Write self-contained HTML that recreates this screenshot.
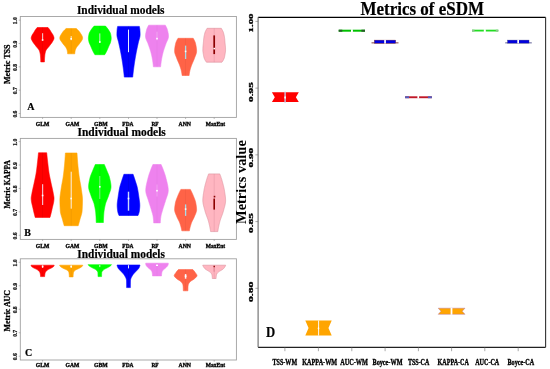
<!DOCTYPE html>
<html><head><meta charset="utf-8"><title>Metrics of eSDM</title>
<style>html,body{margin:0;padding:0;background:#fff;}svg{display:block;}</style></head>
<body><svg width="550" height="369" viewBox="0 0 550 369">
<rect width="550" height="369" fill="#fff"/>
<text x="76.9" y="14.2" font-family="'Liberation Serif', 'Times New Roman', serif" font-weight="bold" font-size="11.6" textLength="87.6" lengthAdjust="spacingAndGlyphs" fill="#000" stroke="#000" stroke-width="0.2">Individual models</text>
<rect x="20.3" y="16.5" width="216.1" height="100.9" fill="none" stroke="#a0a0a0" stroke-width="0.9"/>
<line x1="18.7" y1="20.20" x2="20.3" y2="20.20" stroke="#909090" stroke-width="0.6"/>
<text transform="translate(17.1,24.299999999999997) rotate(-90)" font-family="'Liberation Serif', 'Times New Roman', serif" font-weight="bold" font-size="5.6" textLength="7.0" lengthAdjust="spacingAndGlyphs" fill="#111" stroke="#111" stroke-width="0.25">1.0</text>
<line x1="18.7" y1="43.52" x2="20.3" y2="43.52" stroke="#909090" stroke-width="0.6"/>
<text transform="translate(17.1,47.625) rotate(-90)" font-family="'Liberation Serif', 'Times New Roman', serif" font-weight="bold" font-size="5.6" textLength="7.0" lengthAdjust="spacingAndGlyphs" fill="#111" stroke="#111" stroke-width="0.25">0.9</text>
<line x1="18.7" y1="66.85" x2="20.3" y2="66.85" stroke="#909090" stroke-width="0.6"/>
<text transform="translate(17.1,70.94999999999999) rotate(-90)" font-family="'Liberation Serif', 'Times New Roman', serif" font-weight="bold" font-size="5.6" textLength="7.0" lengthAdjust="spacingAndGlyphs" fill="#111" stroke="#111" stroke-width="0.25">0.8</text>
<line x1="18.7" y1="90.17" x2="20.3" y2="90.17" stroke="#909090" stroke-width="0.6"/>
<text transform="translate(17.1,94.27499999999999) rotate(-90)" font-family="'Liberation Serif', 'Times New Roman', serif" font-weight="bold" font-size="5.6" textLength="7.0" lengthAdjust="spacingAndGlyphs" fill="#111" stroke="#111" stroke-width="0.25">0.7</text>
<line x1="18.7" y1="113.50" x2="20.3" y2="113.50" stroke="#909090" stroke-width="0.6"/>
<text transform="translate(17.1,117.6) rotate(-90)" font-family="'Liberation Serif', 'Times New Roman', serif" font-weight="bold" font-size="5.6" textLength="7.0" lengthAdjust="spacingAndGlyphs" fill="#111" stroke="#111" stroke-width="0.25">0.6</text>
<text transform="translate(10.4,84.0) rotate(-90)" font-family="'Liberation Serif', 'Times New Roman', serif" font-weight="bold" font-size="8.6" textLength="39.5" lengthAdjust="spacingAndGlyphs" fill="#000" stroke="#000" stroke-width="0.3">Metric TSS</text>
<text x="27.2" y="110.0" font-family="'Liberation Serif', 'Times New Roman', serif" font-weight="bold" font-size="10.0" fill="#000" stroke="#000" stroke-width="0.2">A</text>
<line x1="42.6" y1="117.4" x2="42.6" y2="119.0" stroke="#909090" stroke-width="0.6"/>
<text x="35.8" y="126.0" font-family="'Liberation Serif', 'Times New Roman', serif" font-weight="bold" font-size="5.4" textLength="13.6" lengthAdjust="spacingAndGlyphs" fill="#000" stroke="#000" stroke-width="0.3">GLM</text>
<line x1="71.2" y1="117.4" x2="71.2" y2="119.0" stroke="#909090" stroke-width="0.6"/>
<text x="65.6" y="126.0" font-family="'Liberation Serif', 'Times New Roman', serif" font-weight="bold" font-size="5.4" textLength="13.9" lengthAdjust="spacingAndGlyphs" fill="#000" stroke="#000" stroke-width="0.3">GAM</text>
<line x1="99.8" y1="117.4" x2="99.8" y2="119.0" stroke="#909090" stroke-width="0.6"/>
<text x="94.0" y="126.0" font-family="'Liberation Serif', 'Times New Roman', serif" font-weight="bold" font-size="5.4" textLength="13.8" lengthAdjust="spacingAndGlyphs" fill="#000" stroke="#000" stroke-width="0.3">GBM</text>
<line x1="128.5" y1="117.4" x2="128.5" y2="119.0" stroke="#909090" stroke-width="0.6"/>
<text x="122.3" y="126.0" font-family="'Liberation Serif', 'Times New Roman', serif" font-weight="bold" font-size="5.4" textLength="11.3" lengthAdjust="spacingAndGlyphs" fill="#000" stroke="#000" stroke-width="0.3">FDA</text>
<line x1="157.0" y1="117.4" x2="157.0" y2="119.0" stroke="#909090" stroke-width="0.6"/>
<text x="151.4" y="126.0" font-family="'Liberation Serif', 'Times New Roman', serif" font-weight="bold" font-size="5.4" textLength="7.1" lengthAdjust="spacingAndGlyphs" fill="#000" stroke="#000" stroke-width="0.3">RF</text>
<line x1="185.6" y1="117.4" x2="185.6" y2="119.0" stroke="#909090" stroke-width="0.6"/>
<text x="178.6" y="126.0" font-family="'Liberation Serif', 'Times New Roman', serif" font-weight="bold" font-size="5.4" textLength="12.3" lengthAdjust="spacingAndGlyphs" fill="#000" stroke="#000" stroke-width="0.3">ANN</text>
<line x1="214.2" y1="117.4" x2="214.2" y2="119.0" stroke="#909090" stroke-width="0.6"/>
<text x="205.7" y="126.0" font-family="'Liberation Serif', 'Times New Roman', serif" font-weight="bold" font-size="5.4" textLength="19.4" lengthAdjust="spacingAndGlyphs" fill="#000" stroke="#000" stroke-width="0.3">MaxEnt</text>
<path d="M48.00,27.50 L48.42,28.01 L48.82,28.51 L49.21,29.02 L49.57,29.52 L49.92,30.03 L50.24,30.54 L50.54,31.04 L50.83,31.55 L51.11,32.05 L51.41,32.56 L51.74,33.06 L52.10,33.57 L52.46,34.08 L52.79,34.58 L53.04,35.09 L53.27,35.59 L53.49,36.10 L53.69,36.61 L53.85,37.11 L53.96,37.62 L54.00,38.12 L53.94,38.63 L53.80,39.14 L53.60,39.64 L53.34,40.15 L53.06,40.65 L52.78,41.16 L52.51,41.66 L52.21,42.17 L51.88,42.68 L51.52,43.18 L51.14,43.69 L50.75,44.19 L50.35,44.70 L49.96,45.21 L49.59,45.71 L49.21,46.22 L48.80,46.72 L48.37,47.23 L47.94,47.74 L47.51,48.24 L47.10,48.75 L46.71,49.25 L46.36,49.76 L46.06,50.26 L45.82,50.77 L45.64,51.28 L45.49,51.78 L45.36,52.29 L45.23,52.79 L45.12,53.30 L45.02,53.81 L44.93,54.31 L44.86,54.82 L44.81,55.32 L44.76,55.83 L44.72,56.34 L44.68,56.84 L44.64,57.35 L44.60,57.85 L44.57,58.36 L44.54,58.86 L44.51,59.37 L44.49,59.88 L44.47,60.38 L44.46,60.89 L44.45,61.39 L44.45,61.90 L40.75,61.90 L40.75,61.39 L40.74,60.89 L40.73,60.38 L40.71,59.88 L40.69,59.37 L40.66,58.86 L40.63,58.36 L40.60,57.85 L40.56,57.35 L40.52,56.84 L40.48,56.34 L40.44,55.83 L40.39,55.32 L40.34,54.82 L40.27,54.31 L40.18,53.81 L40.08,53.30 L39.97,52.79 L39.84,52.29 L39.71,51.78 L39.56,51.28 L39.38,50.77 L39.14,50.26 L38.84,49.76 L38.49,49.25 L38.10,48.75 L37.69,48.24 L37.26,47.74 L36.83,47.23 L36.40,46.72 L35.99,46.22 L35.61,45.71 L35.24,45.21 L34.85,44.70 L34.45,44.19 L34.06,43.69 L33.68,43.18 L33.32,42.68 L32.99,42.17 L32.69,41.66 L32.42,41.16 L32.14,40.65 L31.86,40.15 L31.60,39.64 L31.40,39.14 L31.26,38.63 L31.20,38.12 L31.24,37.62 L31.35,37.11 L31.51,36.61 L31.71,36.10 L31.93,35.59 L32.16,35.09 L32.41,34.58 L32.74,34.08 L33.10,33.57 L33.46,33.06 L33.79,32.56 L34.09,32.05 L34.37,31.55 L34.66,31.04 L34.96,30.54 L35.28,30.03 L35.63,29.52 L35.99,29.02 L36.38,28.51 L36.78,28.01 L37.20,27.50Z" fill="#ff0000" stroke="#ff0000" stroke-width="0.6"/>
<line x1="42.6" y1="27.5" x2="42.6" y2="61.9" stroke="#cc0000" stroke-width="0.5" opacity="0.55"/>
<rect x="42.05" y="33.2" width="1.1" height="7.00" fill="#f0c0c8"/>
<rect x="41.80" y="39.20" width="1.6" height="1.6" fill="#ffffff"/>
<path d="M76.30,28.50 L76.85,29.01 L77.38,29.51 L77.89,30.02 L78.38,30.52 L78.84,31.03 L79.26,31.54 L79.65,32.04 L80.00,32.55 L80.32,33.05 L80.65,33.56 L80.97,34.07 L81.29,34.57 L81.59,35.08 L81.87,35.58 L82.11,36.09 L82.31,36.60 L82.47,37.10 L82.57,37.61 L82.60,38.11 L82.55,38.62 L82.42,39.13 L82.21,39.63 L81.95,40.14 L81.64,40.64 L81.30,41.15 L80.93,41.66 L80.55,42.16 L80.18,42.67 L79.82,43.17 L79.48,43.68 L79.11,44.19 L78.70,44.69 L78.27,45.20 L77.83,45.70 L77.41,46.21 L77.01,46.72 L76.64,47.22 L76.34,47.73 L76.08,48.23 L75.83,48.74 L75.60,49.25 L75.40,49.75 L75.25,50.26 L75.15,50.76 L75.06,51.27 L74.98,51.78 L74.90,52.28 L74.85,52.79 L74.81,53.29 L74.80,53.80 L67.60,53.80 L67.59,53.29 L67.55,52.79 L67.50,52.28 L67.42,51.78 L67.34,51.27 L67.25,50.76 L67.15,50.26 L67.00,49.75 L66.80,49.25 L66.57,48.74 L66.32,48.23 L66.06,47.73 L65.76,47.22 L65.39,46.72 L64.99,46.21 L64.57,45.70 L64.13,45.20 L63.70,44.69 L63.29,44.19 L62.92,43.68 L62.58,43.17 L62.22,42.67 L61.85,42.16 L61.47,41.66 L61.10,41.15 L60.76,40.64 L60.45,40.14 L60.19,39.63 L59.98,39.13 L59.85,38.62 L59.80,38.11 L59.83,37.61 L59.93,37.10 L60.09,36.60 L60.29,36.09 L60.53,35.58 L60.81,35.08 L61.11,34.57 L61.43,34.07 L61.75,33.56 L62.08,33.05 L62.40,32.55 L62.75,32.04 L63.14,31.54 L63.56,31.03 L64.02,30.52 L64.51,30.02 L65.02,29.51 L65.55,29.01 L66.10,28.50Z" fill="#ffa500" stroke="#ffa500" stroke-width="0.6"/>
<line x1="71.2" y1="28.5" x2="71.2" y2="53.8" stroke="#d88000" stroke-width="0.5" opacity="0.55"/>
<rect x="70.65" y="36.0" width="1.1" height="4.20" fill="#ffe0b0"/>
<rect x="70.40" y="38.00" width="1.6" height="1.6" fill="#ffffff"/>
<path d="M105.50,26.10 L105.95,26.60 L106.39,27.10 L106.81,27.61 L107.22,28.11 L107.60,28.61 L107.97,29.11 L108.32,29.61 L108.64,30.11 L108.95,30.62 L109.25,31.12 L109.54,31.62 L109.83,32.12 L110.09,32.62 L110.32,33.12 L110.50,33.63 L110.63,34.13 L110.74,34.63 L110.84,35.13 L110.93,35.63 L111.02,36.14 L111.09,36.64 L111.14,37.14 L111.18,37.64 L111.20,38.14 L111.19,38.64 L111.16,39.15 L111.09,39.65 L111.01,40.15 L110.91,40.65 L110.80,41.15 L110.68,41.65 L110.56,42.16 L110.41,42.66 L110.22,43.16 L110.00,43.66 L109.77,44.16 L109.53,44.66 L109.29,45.17 L109.06,45.67 L108.84,46.17 L108.63,46.67 L108.42,47.17 L108.21,47.68 L108.00,48.18 L107.79,48.68 L107.58,49.18 L107.36,49.68 L107.13,50.18 L106.90,50.69 L106.66,51.19 L106.40,51.69 L106.14,52.19 L105.87,52.69 L105.59,53.19 L105.30,53.70 L105.00,54.20 L104.70,54.70 L94.90,54.70 L94.60,54.20 L94.30,53.70 L94.01,53.19 L93.73,52.69 L93.46,52.19 L93.20,51.69 L92.94,51.19 L92.70,50.69 L92.47,50.18 L92.24,49.68 L92.02,49.18 L91.81,48.68 L91.60,48.18 L91.39,47.68 L91.18,47.17 L90.97,46.67 L90.76,46.17 L90.54,45.67 L90.31,45.17 L90.07,44.66 L89.83,44.16 L89.60,43.66 L89.38,43.16 L89.19,42.66 L89.04,42.16 L88.92,41.65 L88.80,41.15 L88.69,40.65 L88.59,40.15 L88.51,39.65 L88.44,39.15 L88.41,38.64 L88.40,38.14 L88.42,37.64 L88.46,37.14 L88.51,36.64 L88.58,36.14 L88.67,35.63 L88.76,35.13 L88.86,34.63 L88.97,34.13 L89.10,33.63 L89.28,33.12 L89.51,32.62 L89.77,32.12 L90.06,31.62 L90.35,31.12 L90.65,30.62 L90.96,30.11 L91.28,29.61 L91.63,29.11 L92.00,28.61 L92.38,28.11 L92.79,27.61 L93.21,27.10 L93.65,26.60 L94.10,26.10Z" fill="#00ff00" stroke="#00ff00" stroke-width="0.6"/>
<line x1="99.8" y1="26.1" x2="99.8" y2="54.7" stroke="#00cc00" stroke-width="0.5" opacity="0.55"/>
<rect x="99.25" y="33.4" width="1.1" height="9.20" fill="#b8f0b8"/>
<rect x="99.00" y="41.20" width="1.6" height="1.6" fill="#ffffff"/>
<path d="M139.35,26.40 L139.45,26.90 L139.55,27.40 L139.64,27.91 L139.72,28.41 L139.79,28.91 L139.85,29.41 L139.89,29.91 L139.93,30.42 L139.96,30.92 L139.99,31.42 L140.02,31.92 L140.05,32.42 L140.07,32.93 L140.08,33.43 L140.09,33.93 L140.10,34.43 L140.09,34.93 L140.06,35.44 L140.01,35.94 L139.93,36.44 L139.84,36.94 L139.72,37.44 L139.60,37.95 L139.47,38.45 L139.32,38.95 L139.18,39.45 L139.03,39.95 L138.88,40.46 L138.74,40.96 L138.60,41.46 L138.47,41.96 L138.36,42.46 L138.25,42.97 L138.14,43.47 L138.03,43.97 L137.92,44.47 L137.81,44.97 L137.70,45.48 L137.59,45.98 L137.48,46.48 L137.38,46.98 L137.27,47.48 L137.16,47.99 L137.05,48.49 L136.95,48.99 L136.84,49.49 L136.74,49.99 L136.63,50.50 L136.53,51.00 L136.43,51.50 L136.33,52.00 L136.24,52.50 L136.14,53.00 L136.05,53.51 L135.96,54.01 L135.87,54.51 L135.78,55.01 L135.69,55.51 L135.60,56.02 L135.51,56.52 L135.42,57.02 L135.33,57.52 L135.25,58.02 L135.16,58.53 L135.08,59.03 L135.00,59.53 L134.91,60.03 L134.83,60.53 L134.75,61.04 L134.67,61.54 L134.59,62.04 L134.52,62.54 L134.44,63.04 L134.36,63.55 L134.29,64.05 L134.22,64.55 L134.15,65.05 L134.08,65.55 L134.01,66.06 L133.94,66.56 L133.87,67.06 L133.80,67.56 L133.74,68.06 L133.67,68.57 L133.61,69.07 L133.54,69.57 L133.48,70.07 L133.42,70.57 L133.36,71.08 L133.30,71.58 L133.24,72.08 L133.18,72.58 L133.12,73.08 L133.07,73.59 L133.01,74.09 L132.96,74.59 L132.90,75.09 L132.85,75.59 L132.80,76.10 L132.75,76.60 L132.70,77.10 L124.30,77.10 L124.25,76.60 L124.20,76.10 L124.15,75.59 L124.10,75.09 L124.04,74.59 L123.99,74.09 L123.93,73.59 L123.88,73.08 L123.82,72.58 L123.76,72.08 L123.70,71.58 L123.64,71.08 L123.58,70.57 L123.52,70.07 L123.46,69.57 L123.39,69.07 L123.33,68.57 L123.26,68.06 L123.20,67.56 L123.13,67.06 L123.06,66.56 L122.99,66.06 L122.92,65.55 L122.85,65.05 L122.78,64.55 L122.71,64.05 L122.64,63.55 L122.56,63.04 L122.48,62.54 L122.41,62.04 L122.33,61.54 L122.25,61.04 L122.17,60.53 L122.09,60.03 L122.00,59.53 L121.92,59.03 L121.84,58.53 L121.75,58.02 L121.67,57.52 L121.58,57.02 L121.49,56.52 L121.40,56.02 L121.31,55.51 L121.22,55.01 L121.13,54.51 L121.04,54.01 L120.95,53.51 L120.86,53.00 L120.76,52.50 L120.67,52.00 L120.57,51.50 L120.47,51.00 L120.37,50.50 L120.26,49.99 L120.16,49.49 L120.05,48.99 L119.95,48.49 L119.84,47.99 L119.73,47.48 L119.62,46.98 L119.52,46.48 L119.41,45.98 L119.30,45.48 L119.19,44.97 L119.08,44.47 L118.97,43.97 L118.86,43.47 L118.75,42.97 L118.64,42.46 L118.53,41.96 L118.40,41.46 L118.26,40.96 L118.12,40.46 L117.97,39.95 L117.82,39.45 L117.68,38.95 L117.53,38.45 L117.40,37.95 L117.28,37.44 L117.16,36.94 L117.07,36.44 L116.99,35.94 L116.94,35.44 L116.91,34.93 L116.90,34.43 L116.91,33.93 L116.92,33.43 L116.93,32.93 L116.95,32.42 L116.98,31.92 L117.01,31.42 L117.04,30.92 L117.07,30.42 L117.11,29.91 L117.15,29.41 L117.21,28.91 L117.28,28.41 L117.36,27.91 L117.45,27.40 L117.55,26.90 L117.65,26.40Z" fill="#0000ff" stroke="#0000ff" stroke-width="0.6"/>
<line x1="128.5" y1="26.4" x2="128.5" y2="77.1" stroke="#0000bb" stroke-width="0.5" opacity="0.55"/>
<rect x="128.00" y="29.6" width="1.0" height="22.60" fill="#e8f0ff"/>
<path d="M165.30,25.20 L165.59,25.70 L165.87,26.20 L166.13,26.70 L166.39,27.20 L166.63,27.71 L166.85,28.21 L167.05,28.71 L167.23,29.21 L167.38,29.71 L167.50,30.21 L167.63,30.71 L167.75,31.21 L167.87,31.72 L167.98,32.22 L168.09,32.72 L168.19,33.22 L168.27,33.72 L168.35,34.22 L168.41,34.72 L168.46,35.22 L168.49,35.73 L168.50,36.23 L168.48,36.73 L168.43,37.23 L168.33,37.73 L168.21,38.23 L168.05,38.73 L167.88,39.23 L167.68,39.73 L167.47,40.24 L167.24,40.74 L167.01,41.24 L166.78,41.74 L166.55,42.24 L166.33,42.74 L166.12,43.24 L165.93,43.74 L165.75,44.25 L165.58,44.75 L165.40,45.25 L165.22,45.75 L165.05,46.25 L164.87,46.75 L164.69,47.25 L164.51,47.75 L164.34,48.26 L164.16,48.76 L164.00,49.26 L163.83,49.76 L163.67,50.26 L163.52,50.76 L163.37,51.26 L163.24,51.76 L163.10,52.27 L162.97,52.77 L162.85,53.27 L162.72,53.77 L162.60,54.27 L162.48,54.77 L162.37,55.27 L162.25,55.77 L162.15,56.27 L162.04,56.78 L161.94,57.28 L161.84,57.78 L161.74,58.28 L161.65,58.78 L161.57,59.28 L161.49,59.78 L161.41,60.28 L161.33,60.79 L161.26,61.29 L161.18,61.79 L161.11,62.29 L161.04,62.79 L160.98,63.29 L160.91,63.79 L160.85,64.29 L160.80,64.80 L160.74,65.30 L160.69,65.80 L160.64,66.30 L160.60,66.80 L153.40,66.80 L153.36,66.30 L153.31,65.80 L153.26,65.30 L153.20,64.80 L153.15,64.29 L153.09,63.79 L153.02,63.29 L152.96,62.79 L152.89,62.29 L152.82,61.79 L152.74,61.29 L152.67,60.79 L152.59,60.28 L152.51,59.78 L152.43,59.28 L152.35,58.78 L152.26,58.28 L152.16,57.78 L152.06,57.28 L151.96,56.78 L151.85,56.27 L151.75,55.77 L151.63,55.27 L151.52,54.77 L151.40,54.27 L151.28,53.77 L151.15,53.27 L151.03,52.77 L150.90,52.27 L150.76,51.76 L150.63,51.26 L150.48,50.76 L150.33,50.26 L150.17,49.76 L150.00,49.26 L149.84,48.76 L149.66,48.26 L149.49,47.75 L149.31,47.25 L149.13,46.75 L148.95,46.25 L148.78,45.75 L148.60,45.25 L148.42,44.75 L148.25,44.25 L148.07,43.74 L147.88,43.24 L147.67,42.74 L147.45,42.24 L147.22,41.74 L146.99,41.24 L146.76,40.74 L146.53,40.24 L146.32,39.73 L146.12,39.23 L145.95,38.73 L145.79,38.23 L145.67,37.73 L145.57,37.23 L145.52,36.73 L145.50,36.23 L145.51,35.73 L145.54,35.22 L145.59,34.72 L145.65,34.22 L145.73,33.72 L145.81,33.22 L145.91,32.72 L146.02,32.22 L146.13,31.72 L146.25,31.21 L146.37,30.71 L146.50,30.21 L146.62,29.71 L146.77,29.21 L146.95,28.71 L147.15,28.21 L147.37,27.71 L147.61,27.20 L147.87,26.70 L148.13,26.20 L148.41,25.70 L148.70,25.20Z" fill="#ee82ee" stroke="#ee82ee" stroke-width="0.6"/>
<line x1="157.0" y1="25.2" x2="157.0" y2="66.8" stroke="#d070d0" stroke-width="0.5" opacity="0.55"/>
<rect x="156.40" y="31.7" width="1.2" height="8.50" fill="#f0a0f0"/>
<rect x="156.20" y="37.80" width="1.6" height="1.6" fill="#ffffff"/>
<path d="M193.20,38.30 L193.48,38.80 L193.76,39.31 L194.03,39.81 L194.29,40.31 L194.53,40.81 L194.76,41.32 L194.97,41.82 L195.17,42.32 L195.34,42.82 L195.49,43.33 L195.61,43.83 L195.71,44.33 L195.82,44.84 L195.92,45.34 L196.02,45.84 L196.11,46.34 L196.20,46.85 L196.28,47.35 L196.35,47.85 L196.42,48.35 L196.48,48.86 L196.52,49.36 L196.56,49.86 L196.59,50.36 L196.60,50.87 L196.59,51.37 L196.56,51.87 L196.49,52.38 L196.39,52.88 L196.26,53.38 L196.11,53.88 L195.95,54.39 L195.77,54.89 L195.57,55.39 L195.38,55.89 L195.17,56.40 L194.97,56.90 L194.77,57.40 L194.58,57.91 L194.40,58.41 L194.22,58.91 L194.02,59.41 L193.82,59.92 L193.61,60.42 L193.40,60.92 L193.18,61.42 L192.95,61.93 L192.73,62.43 L192.51,62.93 L192.29,63.44 L192.08,63.94 L191.87,64.44 L191.68,64.94 L191.49,65.45 L191.31,65.95 L191.14,66.45 L190.97,66.95 L190.79,67.46 L190.63,67.96 L190.47,68.46 L190.32,68.96 L190.18,69.47 L190.05,69.97 L189.93,70.47 L189.82,70.98 L189.72,71.48 L189.62,71.98 L189.53,72.48 L189.44,72.99 L189.35,73.49 L189.28,73.99 L189.21,74.49 L189.15,75.00 L189.10,75.50 L182.10,75.50 L182.05,75.00 L181.99,74.49 L181.92,73.99 L181.85,73.49 L181.76,72.99 L181.67,72.48 L181.58,71.98 L181.48,71.48 L181.38,70.98 L181.27,70.47 L181.15,69.97 L181.02,69.47 L180.88,68.96 L180.73,68.46 L180.57,67.96 L180.41,67.46 L180.23,66.95 L180.06,66.45 L179.89,65.95 L179.71,65.45 L179.52,64.94 L179.33,64.44 L179.12,63.94 L178.91,63.44 L178.69,62.93 L178.47,62.43 L178.25,61.93 L178.02,61.42 L177.80,60.92 L177.59,60.42 L177.38,59.92 L177.18,59.41 L176.98,58.91 L176.80,58.41 L176.62,57.91 L176.43,57.40 L176.23,56.90 L176.03,56.40 L175.82,55.89 L175.63,55.39 L175.43,54.89 L175.25,54.39 L175.09,53.88 L174.94,53.38 L174.81,52.88 L174.71,52.38 L174.64,51.87 L174.61,51.37 L174.60,50.87 L174.61,50.36 L174.64,49.86 L174.68,49.36 L174.72,48.86 L174.78,48.35 L174.85,47.85 L174.92,47.35 L175.00,46.85 L175.09,46.34 L175.18,45.84 L175.28,45.34 L175.38,44.84 L175.49,44.33 L175.59,43.83 L175.71,43.33 L175.86,42.82 L176.03,42.32 L176.23,41.82 L176.44,41.32 L176.67,40.81 L176.91,40.31 L177.17,39.81 L177.44,39.31 L177.72,38.80 L178.00,38.30Z" fill="#ff6347" stroke="#ff6347" stroke-width="0.6"/>
<line x1="185.6" y1="38.3" x2="185.6" y2="75.5" stroke="#e05038" stroke-width="0.5" opacity="0.55"/>
<rect x="184.95" y="45.6" width="1.3" height="13.40" fill="#a8dce8"/>
<rect x="184.80" y="50.60" width="1.6" height="1.6" fill="#ffffff"/>
<path d="M221.30,28.30 L221.61,28.81 L221.90,29.31 L222.19,29.82 L222.46,30.32 L222.71,30.83 L222.95,31.34 L223.16,31.84 L223.36,32.35 L223.53,32.85 L223.67,33.36 L223.81,33.87 L223.94,34.37 L224.05,34.88 L224.16,35.38 L224.26,35.89 L224.36,36.40 L224.44,36.90 L224.52,37.41 L224.59,37.91 L224.65,38.42 L224.71,38.93 L224.76,39.43 L224.81,39.94 L224.85,40.44 L224.89,40.95 L224.93,41.46 L224.97,41.96 L225.01,42.47 L225.05,42.97 L225.10,43.48 L225.15,43.99 L225.20,44.49 L225.25,45.00 L225.31,45.50 L225.36,46.01 L225.41,46.51 L225.45,47.02 L225.48,47.53 L225.50,48.03 L225.52,48.54 L225.53,49.04 L225.54,49.55 L225.55,50.06 L225.55,50.56 L225.54,51.07 L225.49,51.57 L225.43,52.08 L225.34,52.59 L225.26,53.09 L225.17,53.60 L225.08,54.10 L225.00,54.61 L224.92,55.12 L224.84,55.62 L224.74,56.13 L224.64,56.63 L224.52,57.14 L224.39,57.65 L224.22,58.15 L224.02,58.66 L223.80,59.16 L223.54,59.67 L223.28,60.18 L223.00,60.68 L222.68,61.19 L222.33,61.69 L221.95,62.20 L206.45,62.20 L206.07,61.69 L205.72,61.19 L205.40,60.68 L205.12,60.18 L204.86,59.67 L204.60,59.16 L204.38,58.66 L204.18,58.15 L204.01,57.65 L203.88,57.14 L203.76,56.63 L203.66,56.13 L203.56,55.62 L203.48,55.12 L203.40,54.61 L203.32,54.10 L203.23,53.60 L203.14,53.09 L203.06,52.59 L202.97,52.08 L202.91,51.57 L202.86,51.07 L202.85,50.56 L202.85,50.06 L202.86,49.55 L202.87,49.04 L202.88,48.54 L202.90,48.03 L202.92,47.53 L202.95,47.02 L202.99,46.51 L203.04,46.01 L203.09,45.50 L203.15,45.00 L203.20,44.49 L203.25,43.99 L203.30,43.48 L203.35,42.97 L203.39,42.47 L203.43,41.96 L203.47,41.46 L203.51,40.95 L203.55,40.44 L203.59,39.94 L203.64,39.43 L203.69,38.93 L203.75,38.42 L203.81,37.91 L203.88,37.41 L203.96,36.90 L204.04,36.40 L204.14,35.89 L204.24,35.38 L204.35,34.88 L204.46,34.37 L204.59,33.87 L204.73,33.36 L204.87,32.85 L205.04,32.35 L205.24,31.84 L205.45,31.34 L205.69,30.83 L205.94,30.32 L206.21,29.82 L206.50,29.31 L206.79,28.81 L207.10,28.30Z" fill="#ffb6c1" stroke="#dc909c" stroke-width="0.6"/>
<line x1="214.2" y1="28.3" x2="214.2" y2="62.2" stroke="#c87888" stroke-width="0.5" opacity="0.55"/>
<rect x="213.35" y="35.4" width="1.7" height="18.70" fill="#8b0000"/>
<rect x="213.40" y="47.80" width="1.6" height="1.6" fill="#ffffff"/>
<text x="77.5" y="136.2" font-family="'Liberation Serif', 'Times New Roman', serif" font-weight="bold" font-size="11.6" textLength="88.3" lengthAdjust="spacingAndGlyphs" fill="#000" stroke="#000" stroke-width="0.2">Individual models</text>
<rect x="20.3" y="138.4" width="216.1" height="101.0" fill="none" stroke="#a0a0a0" stroke-width="0.9"/>
<line x1="18.7" y1="141.60" x2="20.3" y2="141.60" stroke="#909090" stroke-width="0.6"/>
<text transform="translate(17.1,145.7) rotate(-90)" font-family="'Liberation Serif', 'Times New Roman', serif" font-weight="bold" font-size="5.6" textLength="7.0" lengthAdjust="spacingAndGlyphs" fill="#111" stroke="#111" stroke-width="0.25">1.0</text>
<line x1="18.7" y1="165.03" x2="20.3" y2="165.03" stroke="#909090" stroke-width="0.6"/>
<text transform="translate(17.1,169.125) rotate(-90)" font-family="'Liberation Serif', 'Times New Roman', serif" font-weight="bold" font-size="5.6" textLength="7.0" lengthAdjust="spacingAndGlyphs" fill="#111" stroke="#111" stroke-width="0.25">0.9</text>
<line x1="18.7" y1="188.45" x2="20.3" y2="188.45" stroke="#909090" stroke-width="0.6"/>
<text transform="translate(17.1,192.54999999999998) rotate(-90)" font-family="'Liberation Serif', 'Times New Roman', serif" font-weight="bold" font-size="5.6" textLength="7.0" lengthAdjust="spacingAndGlyphs" fill="#111" stroke="#111" stroke-width="0.25">0.8</text>
<line x1="18.7" y1="211.88" x2="20.3" y2="211.88" stroke="#909090" stroke-width="0.6"/>
<text transform="translate(17.1,215.975) rotate(-90)" font-family="'Liberation Serif', 'Times New Roman', serif" font-weight="bold" font-size="5.6" textLength="7.0" lengthAdjust="spacingAndGlyphs" fill="#111" stroke="#111" stroke-width="0.25">0.7</text>
<line x1="18.7" y1="235.30" x2="20.3" y2="235.30" stroke="#909090" stroke-width="0.6"/>
<text transform="translate(17.1,239.4) rotate(-90)" font-family="'Liberation Serif', 'Times New Roman', serif" font-weight="bold" font-size="5.6" textLength="7.0" lengthAdjust="spacingAndGlyphs" fill="#111" stroke="#111" stroke-width="0.25">0.6</text>
<text transform="translate(10.4,208.5) rotate(-90)" font-family="'Liberation Serif', 'Times New Roman', serif" font-weight="bold" font-size="8.6" textLength="48.3" lengthAdjust="spacingAndGlyphs" fill="#000" stroke="#000" stroke-width="0.3">Metric KAPPA</text>
<text x="24.3" y="235.7" font-family="'Liberation Serif', 'Times New Roman', serif" font-weight="bold" font-size="10.0" fill="#000" stroke="#000" stroke-width="0.2">B</text>
<line x1="42.6" y1="239.4" x2="42.6" y2="241.0" stroke="#909090" stroke-width="0.6"/>
<text x="35.8" y="247.79999999999998" font-family="'Liberation Serif', 'Times New Roman', serif" font-weight="bold" font-size="5.4" textLength="13.6" lengthAdjust="spacingAndGlyphs" fill="#000" stroke="#000" stroke-width="0.3">GLM</text>
<line x1="71.2" y1="239.4" x2="71.2" y2="241.0" stroke="#909090" stroke-width="0.6"/>
<text x="65.6" y="247.79999999999998" font-family="'Liberation Serif', 'Times New Roman', serif" font-weight="bold" font-size="5.4" textLength="13.9" lengthAdjust="spacingAndGlyphs" fill="#000" stroke="#000" stroke-width="0.3">GAM</text>
<line x1="99.8" y1="239.4" x2="99.8" y2="241.0" stroke="#909090" stroke-width="0.6"/>
<text x="94.0" y="247.79999999999998" font-family="'Liberation Serif', 'Times New Roman', serif" font-weight="bold" font-size="5.4" textLength="13.8" lengthAdjust="spacingAndGlyphs" fill="#000" stroke="#000" stroke-width="0.3">GBM</text>
<line x1="128.5" y1="239.4" x2="128.5" y2="241.0" stroke="#909090" stroke-width="0.6"/>
<text x="122.3" y="247.79999999999998" font-family="'Liberation Serif', 'Times New Roman', serif" font-weight="bold" font-size="5.4" textLength="11.3" lengthAdjust="spacingAndGlyphs" fill="#000" stroke="#000" stroke-width="0.3">FDA</text>
<line x1="157.0" y1="239.4" x2="157.0" y2="241.0" stroke="#909090" stroke-width="0.6"/>
<text x="151.4" y="247.79999999999998" font-family="'Liberation Serif', 'Times New Roman', serif" font-weight="bold" font-size="5.4" textLength="7.1" lengthAdjust="spacingAndGlyphs" fill="#000" stroke="#000" stroke-width="0.3">RF</text>
<line x1="185.6" y1="239.4" x2="185.6" y2="241.0" stroke="#909090" stroke-width="0.6"/>
<text x="178.6" y="247.79999999999998" font-family="'Liberation Serif', 'Times New Roman', serif" font-weight="bold" font-size="5.4" textLength="12.3" lengthAdjust="spacingAndGlyphs" fill="#000" stroke="#000" stroke-width="0.3">ANN</text>
<line x1="214.2" y1="239.4" x2="214.2" y2="241.0" stroke="#909090" stroke-width="0.6"/>
<text x="205.7" y="247.79999999999998" font-family="'Liberation Serif', 'Times New Roman', serif" font-weight="bold" font-size="5.4" textLength="19.4" lengthAdjust="spacingAndGlyphs" fill="#000" stroke="#000" stroke-width="0.3">MaxEnt</text>
<path d="M46.70,152.80 L46.75,153.30 L46.80,153.80 L46.85,154.30 L46.90,154.80 L46.95,155.30 L47.00,155.80 L47.05,156.31 L47.10,156.81 L47.15,157.31 L47.21,157.81 L47.26,158.31 L47.31,158.81 L47.37,159.31 L47.42,159.81 L47.48,160.31 L47.53,160.81 L47.59,161.31 L47.65,161.81 L47.70,162.31 L47.76,162.82 L47.81,163.32 L47.87,163.82 L47.92,164.32 L47.98,164.82 L48.04,165.32 L48.09,165.82 L48.15,166.32 L48.21,166.82 L48.27,167.32 L48.33,167.82 L48.39,168.32 L48.45,168.82 L48.51,169.33 L48.58,169.83 L48.65,170.33 L48.71,170.83 L48.78,171.33 L48.86,171.83 L48.93,172.33 L49.00,172.83 L49.08,173.33 L49.17,173.83 L49.26,174.33 L49.35,174.83 L49.44,175.33 L49.54,175.84 L49.64,176.34 L49.74,176.84 L49.84,177.34 L49.95,177.84 L50.06,178.34 L50.16,178.84 L50.27,179.34 L50.38,179.84 L50.49,180.34 L50.59,180.84 L50.70,181.34 L50.81,181.84 L50.91,182.35 L51.01,182.85 L51.12,183.35 L51.23,183.85 L51.34,184.35 L51.45,184.85 L51.56,185.35 L51.68,185.85 L51.79,186.35 L51.90,186.85 L52.02,187.35 L52.13,187.85 L52.24,188.36 L52.35,188.86 L52.46,189.36 L52.57,189.86 L52.68,190.36 L52.78,190.86 L52.88,191.36 L52.98,191.86 L53.08,192.36 L53.17,192.86 L53.26,193.36 L53.35,193.86 L53.44,194.36 L53.54,194.87 L53.63,195.37 L53.73,195.87 L53.81,196.37 L53.89,196.87 L53.95,197.37 L53.99,197.87 L54.00,198.37 L53.99,198.87 L53.97,199.37 L53.93,199.87 L53.88,200.37 L53.82,200.87 L53.75,201.38 L53.67,201.88 L53.58,202.38 L53.48,202.88 L53.37,203.38 L53.26,203.88 L53.14,204.38 L53.03,204.88 L52.90,205.38 L52.78,205.88 L52.66,206.38 L52.54,206.88 L52.42,207.38 L52.30,207.89 L52.19,208.39 L52.08,208.89 L51.98,209.39 L51.87,209.89 L51.75,210.39 L51.64,210.89 L51.53,211.39 L51.41,211.89 L51.29,212.39 L51.17,212.89 L51.04,213.39 L50.92,213.89 L50.79,214.40 L50.66,214.90 L50.53,215.40 L50.40,215.90 L50.27,216.40 L50.14,216.90 L50.00,217.40 L35.20,217.40 L35.06,216.90 L34.93,216.40 L34.80,215.90 L34.67,215.40 L34.54,214.90 L34.41,214.40 L34.28,213.89 L34.16,213.39 L34.03,212.89 L33.91,212.39 L33.79,211.89 L33.67,211.39 L33.56,210.89 L33.45,210.39 L33.33,209.89 L33.22,209.39 L33.12,208.89 L33.01,208.39 L32.90,207.89 L32.78,207.38 L32.66,206.88 L32.54,206.38 L32.42,205.88 L32.30,205.38 L32.17,204.88 L32.06,204.38 L31.94,203.88 L31.83,203.38 L31.72,202.88 L31.62,202.38 L31.53,201.88 L31.45,201.38 L31.38,200.87 L31.32,200.37 L31.27,199.87 L31.23,199.37 L31.21,198.87 L31.20,198.37 L31.21,197.87 L31.25,197.37 L31.31,196.87 L31.39,196.37 L31.47,195.87 L31.57,195.37 L31.66,194.87 L31.76,194.36 L31.85,193.86 L31.94,193.36 L32.03,192.86 L32.12,192.36 L32.22,191.86 L32.32,191.36 L32.42,190.86 L32.52,190.36 L32.63,189.86 L32.74,189.36 L32.85,188.86 L32.96,188.36 L33.07,187.85 L33.18,187.35 L33.30,186.85 L33.41,186.35 L33.52,185.85 L33.64,185.35 L33.75,184.85 L33.86,184.35 L33.97,183.85 L34.08,183.35 L34.19,182.85 L34.29,182.35 L34.39,181.84 L34.50,181.34 L34.61,180.84 L34.71,180.34 L34.82,179.84 L34.93,179.34 L35.04,178.84 L35.14,178.34 L35.25,177.84 L35.36,177.34 L35.46,176.84 L35.56,176.34 L35.66,175.84 L35.76,175.33 L35.85,174.83 L35.94,174.33 L36.03,173.83 L36.12,173.33 L36.20,172.83 L36.27,172.33 L36.34,171.83 L36.42,171.33 L36.49,170.83 L36.55,170.33 L36.62,169.83 L36.69,169.33 L36.75,168.82 L36.81,168.32 L36.87,167.82 L36.93,167.32 L36.99,166.82 L37.05,166.32 L37.11,165.82 L37.16,165.32 L37.22,164.82 L37.28,164.32 L37.33,163.82 L37.39,163.32 L37.44,162.82 L37.50,162.31 L37.55,161.81 L37.61,161.31 L37.67,160.81 L37.72,160.31 L37.78,159.81 L37.83,159.31 L37.89,158.81 L37.94,158.31 L37.99,157.81 L38.05,157.31 L38.10,156.81 L38.15,156.31 L38.20,155.80 L38.25,155.30 L38.30,154.80 L38.35,154.30 L38.40,153.80 L38.45,153.30 L38.50,152.80Z" fill="#ff0000" stroke="#ff0000" stroke-width="0.6"/>
<line x1="42.6" y1="152.8" x2="42.6" y2="217.4" stroke="#cc0000" stroke-width="0.5" opacity="0.55"/>
<rect x="42.00" y="184.2" width="1.2" height="20.80" fill="#f4b8c8"/>
<rect x="41.80" y="194.70" width="1.6" height="1.6" fill="#ffffff"/>
<path d="M77.00,153.00 L77.03,153.50 L77.06,154.00 L77.09,154.50 L77.12,155.01 L77.15,155.51 L77.18,156.01 L77.21,156.51 L77.24,157.01 L77.28,157.51 L77.31,158.01 L77.35,158.52 L77.39,159.02 L77.42,159.52 L77.46,160.02 L77.50,160.52 L77.54,161.02 L77.58,161.52 L77.62,162.02 L77.66,162.53 L77.70,163.03 L77.74,163.53 L77.79,164.03 L77.83,164.53 L77.88,165.03 L77.92,165.53 L77.97,166.04 L78.02,166.54 L78.07,167.04 L78.12,167.54 L78.17,168.04 L78.22,168.54 L78.27,169.04 L78.32,169.55 L78.38,170.05 L78.43,170.55 L78.49,171.05 L78.54,171.55 L78.60,172.05 L78.66,172.55 L78.72,173.06 L78.78,173.56 L78.84,174.06 L78.90,174.56 L78.97,175.06 L79.03,175.56 L79.10,176.06 L79.16,176.56 L79.23,177.07 L79.31,177.57 L79.39,178.07 L79.47,178.57 L79.55,179.07 L79.64,179.57 L79.73,180.07 L79.82,180.58 L79.91,181.08 L80.01,181.58 L80.10,182.08 L80.19,182.58 L80.29,183.08 L80.38,183.58 L80.48,184.09 L80.57,184.59 L80.66,185.09 L80.75,185.59 L80.84,186.09 L80.92,186.59 L81.00,187.09 L81.08,187.60 L81.16,188.10 L81.23,188.60 L81.30,189.10 L81.37,189.60 L81.44,190.10 L81.51,190.60 L81.58,191.10 L81.66,191.61 L81.73,192.11 L81.81,192.61 L81.88,193.11 L81.95,193.61 L82.02,194.11 L82.09,194.61 L82.15,195.12 L82.21,195.62 L82.27,196.12 L82.32,196.62 L82.37,197.12 L82.41,197.62 L82.44,198.12 L82.47,198.63 L82.49,199.13 L82.50,199.63 L82.50,200.13 L82.50,200.63 L82.49,201.13 L82.49,201.63 L82.48,202.14 L82.47,202.64 L82.46,203.14 L82.45,203.64 L82.44,204.14 L82.42,204.64 L82.40,205.14 L82.38,205.64 L82.36,206.15 L82.34,206.65 L82.32,207.15 L82.29,207.65 L82.26,208.15 L82.24,208.65 L82.21,209.15 L82.18,209.66 L82.15,210.16 L82.12,210.66 L82.08,211.16 L82.03,211.66 L81.96,212.16 L81.87,212.66 L81.76,213.17 L81.65,213.67 L81.52,214.17 L81.39,214.67 L81.24,215.17 L81.09,215.67 L80.94,216.17 L80.78,216.68 L80.62,217.18 L80.46,217.68 L80.31,218.18 L80.16,218.68 L80.01,219.18 L79.88,219.68 L79.74,220.18 L79.61,220.69 L79.47,221.19 L79.33,221.69 L79.20,222.19 L79.06,222.69 L78.92,223.19 L78.77,223.69 L78.63,224.20 L78.49,224.70 L78.34,225.20 L78.20,225.70 L64.20,225.70 L64.06,225.20 L63.91,224.70 L63.77,224.20 L63.63,223.69 L63.48,223.19 L63.34,222.69 L63.20,222.19 L63.07,221.69 L62.93,221.19 L62.79,220.69 L62.66,220.18 L62.52,219.68 L62.39,219.18 L62.24,218.68 L62.09,218.18 L61.94,217.68 L61.78,217.18 L61.62,216.68 L61.46,216.17 L61.31,215.67 L61.16,215.17 L61.01,214.67 L60.88,214.17 L60.75,213.67 L60.64,213.17 L60.53,212.66 L60.44,212.16 L60.37,211.66 L60.32,211.16 L60.28,210.66 L60.25,210.16 L60.22,209.66 L60.19,209.15 L60.16,208.65 L60.14,208.15 L60.11,207.65 L60.08,207.15 L60.06,206.65 L60.04,206.15 L60.02,205.64 L60.00,205.14 L59.98,204.64 L59.96,204.14 L59.95,203.64 L59.94,203.14 L59.93,202.64 L59.92,202.14 L59.91,201.63 L59.91,201.13 L59.90,200.63 L59.90,200.13 L59.90,199.63 L59.91,199.13 L59.93,198.63 L59.96,198.12 L59.99,197.62 L60.03,197.12 L60.08,196.62 L60.13,196.12 L60.19,195.62 L60.25,195.12 L60.31,194.61 L60.38,194.11 L60.45,193.61 L60.52,193.11 L60.59,192.61 L60.67,192.11 L60.74,191.61 L60.82,191.10 L60.89,190.60 L60.96,190.10 L61.03,189.60 L61.10,189.10 L61.17,188.60 L61.24,188.10 L61.32,187.60 L61.40,187.09 L61.48,186.59 L61.56,186.09 L61.65,185.59 L61.74,185.09 L61.83,184.59 L61.92,184.09 L62.02,183.58 L62.11,183.08 L62.21,182.58 L62.30,182.08 L62.39,181.58 L62.49,181.08 L62.58,180.58 L62.67,180.07 L62.76,179.57 L62.85,179.07 L62.93,178.57 L63.01,178.07 L63.09,177.57 L63.17,177.07 L63.24,176.56 L63.30,176.06 L63.37,175.56 L63.43,175.06 L63.50,174.56 L63.56,174.06 L63.62,173.56 L63.68,173.06 L63.74,172.55 L63.80,172.05 L63.86,171.55 L63.91,171.05 L63.97,170.55 L64.02,170.05 L64.08,169.55 L64.13,169.04 L64.18,168.54 L64.23,168.04 L64.28,167.54 L64.33,167.04 L64.38,166.54 L64.43,166.04 L64.48,165.53 L64.52,165.03 L64.57,164.53 L64.61,164.03 L64.66,163.53 L64.70,163.03 L64.74,162.53 L64.78,162.02 L64.82,161.52 L64.86,161.02 L64.90,160.52 L64.94,160.02 L64.98,159.52 L65.01,159.02 L65.05,158.52 L65.09,158.01 L65.12,157.51 L65.16,157.01 L65.19,156.51 L65.22,156.01 L65.25,155.51 L65.28,155.01 L65.31,154.50 L65.34,154.00 L65.37,153.50 L65.40,153.00Z" fill="#ffa500" stroke="#ffa500" stroke-width="0.6"/>
<line x1="71.2" y1="153.0" x2="71.2" y2="225.7" stroke="#d88000" stroke-width="0.5" opacity="0.55"/>
<rect x="70.70" y="171.7" width="1.0" height="37.00" fill="#fff4e4"/>
<rect x="70.40" y="197.70" width="1.6" height="1.6" fill="#ffffff"/>
<path d="M104.30,164.50 L104.52,165.00 L104.74,165.50 L104.95,166.00 L105.17,166.50 L105.38,167.00 L105.59,167.50 L105.80,168.00 L106.01,168.50 L106.21,169.00 L106.42,169.50 L106.62,170.00 L106.82,170.50 L107.02,171.00 L107.23,171.50 L107.44,172.00 L107.65,172.50 L107.86,173.00 L108.07,173.50 L108.28,174.00 L108.49,174.50 L108.68,175.00 L108.87,175.50 L109.05,176.00 L109.22,176.50 L109.37,177.00 L109.50,177.50 L109.62,178.00 L109.74,178.50 L109.85,179.00 L109.96,179.50 L110.07,180.00 L110.18,180.50 L110.29,181.00 L110.39,181.50 L110.49,182.00 L110.58,182.50 L110.66,183.00 L110.74,183.50 L110.81,184.00 L110.87,184.50 L110.92,185.00 L110.96,185.50 L110.98,186.00 L111.00,186.50 L111.00,187.00 L110.97,187.50 L110.92,188.00 L110.85,188.50 L110.75,189.00 L110.64,189.50 L110.51,190.00 L110.36,190.50 L110.21,191.00 L110.04,191.50 L109.86,192.00 L109.68,192.50 L109.50,193.00 L109.32,193.50 L109.13,194.00 L108.95,194.50 L108.78,195.00 L108.61,195.50 L108.45,196.00 L108.28,196.50 L108.10,197.00 L107.91,197.50 L107.71,198.00 L107.51,198.50 L107.31,199.00 L107.10,199.50 L106.89,200.00 L106.69,200.50 L106.49,201.00 L106.29,201.50 L106.10,202.00 L105.92,202.50 L105.75,203.00 L105.59,203.50 L105.45,204.00 L105.32,204.50 L105.21,205.00 L105.10,205.50 L104.99,206.00 L104.88,206.50 L104.77,207.00 L104.67,207.50 L104.57,208.00 L104.48,208.50 L104.39,209.00 L104.30,209.50 L104.22,210.00 L104.15,210.50 L104.07,211.00 L104.01,211.50 L103.95,212.00 L103.89,212.50 L103.85,213.00 L103.81,213.50 L103.77,214.00 L103.74,214.50 L103.70,215.00 L103.67,215.50 L103.64,216.00 L103.61,216.50 L103.58,217.00 L103.55,217.50 L103.52,218.00 L103.50,218.50 L103.48,219.00 L103.46,219.50 L103.44,220.00 L103.43,220.50 L103.42,221.00 L103.41,221.50 L103.40,222.00 L103.40,222.50 L96.20,222.50 L96.20,222.00 L96.19,221.50 L96.18,221.00 L96.17,220.50 L96.16,220.00 L96.14,219.50 L96.12,219.00 L96.10,218.50 L96.08,218.00 L96.05,217.50 L96.02,217.00 L95.99,216.50 L95.96,216.00 L95.93,215.50 L95.90,215.00 L95.86,214.50 L95.83,214.00 L95.79,213.50 L95.75,213.00 L95.71,212.50 L95.65,212.00 L95.59,211.50 L95.53,211.00 L95.45,210.50 L95.38,210.00 L95.30,209.50 L95.21,209.00 L95.12,208.50 L95.03,208.00 L94.93,207.50 L94.83,207.00 L94.72,206.50 L94.61,206.00 L94.50,205.50 L94.39,205.00 L94.28,204.50 L94.15,204.00 L94.01,203.50 L93.85,203.00 L93.68,202.50 L93.50,202.00 L93.31,201.50 L93.11,201.00 L92.91,200.50 L92.71,200.00 L92.50,199.50 L92.29,199.00 L92.09,198.50 L91.89,198.00 L91.69,197.50 L91.50,197.00 L91.32,196.50 L91.15,196.00 L90.99,195.50 L90.82,195.00 L90.65,194.50 L90.47,194.00 L90.28,193.50 L90.10,193.00 L89.92,192.50 L89.74,192.00 L89.56,191.50 L89.39,191.00 L89.24,190.50 L89.09,190.00 L88.96,189.50 L88.85,189.00 L88.75,188.50 L88.68,188.00 L88.63,187.50 L88.60,187.00 L88.60,186.50 L88.62,186.00 L88.64,185.50 L88.68,185.00 L88.73,184.50 L88.79,184.00 L88.86,183.50 L88.94,183.00 L89.02,182.50 L89.11,182.00 L89.21,181.50 L89.31,181.00 L89.42,180.50 L89.53,180.00 L89.64,179.50 L89.75,179.00 L89.86,178.50 L89.98,178.00 L90.10,177.50 L90.23,177.00 L90.38,176.50 L90.55,176.00 L90.73,175.50 L90.92,175.00 L91.11,174.50 L91.32,174.00 L91.53,173.50 L91.74,173.00 L91.95,172.50 L92.16,172.00 L92.37,171.50 L92.58,171.00 L92.78,170.50 L92.98,170.00 L93.18,169.50 L93.39,169.00 L93.59,168.50 L93.80,168.00 L94.01,167.50 L94.22,167.00 L94.43,166.50 L94.65,166.00 L94.86,165.50 L95.08,165.00 L95.30,164.50Z" fill="#00ff00" stroke="#00ff00" stroke-width="0.6"/>
<line x1="99.8" y1="164.5" x2="99.8" y2="222.5" stroke="#00cc00" stroke-width="0.5" opacity="0.55"/>
<rect x="99.30" y="176.0" width="1.0" height="23.00" fill="#80f080"/>
<rect x="99.00" y="186.00" width="1.6" height="1.6" fill="#ffffff"/>
<path d="M133.10,174.30 L133.28,174.80 L133.45,175.30 L133.62,175.81 L133.79,176.31 L133.96,176.81 L134.13,177.31 L134.30,177.82 L134.47,178.32 L134.63,178.82 L134.80,179.32 L134.96,179.83 L135.12,180.33 L135.28,180.83 L135.44,181.33 L135.60,181.84 L135.76,182.34 L135.93,182.84 L136.09,183.34 L136.25,183.85 L136.41,184.35 L136.57,184.85 L136.72,185.35 L136.86,185.86 L137.00,186.36 L137.13,186.86 L137.25,187.36 L137.36,187.87 L137.46,188.37 L137.57,188.87 L137.67,189.37 L137.76,189.88 L137.86,190.38 L137.95,190.88 L138.04,191.38 L138.13,191.89 L138.21,192.39 L138.29,192.89 L138.37,193.39 L138.45,193.90 L138.52,194.40 L138.60,194.90 L138.67,195.40 L138.74,195.90 L138.81,196.41 L138.87,196.91 L138.94,197.41 L139.01,197.91 L139.08,198.42 L139.16,198.92 L139.23,199.42 L139.31,199.92 L139.38,200.43 L139.45,200.93 L139.52,201.43 L139.58,201.93 L139.63,202.44 L139.68,202.94 L139.73,203.44 L139.76,203.94 L139.78,204.45 L139.80,204.95 L139.80,205.45 L139.79,205.95 L139.78,206.46 L139.75,206.96 L139.72,207.46 L139.68,207.96 L139.64,208.47 L139.59,208.97 L139.54,209.47 L139.48,209.97 L139.43,210.48 L139.36,210.98 L139.28,211.48 L139.17,211.98 L139.04,212.49 L138.90,212.99 L138.74,213.49 L138.57,213.99 L138.39,214.50 L138.20,215.00 L138.00,215.50 L119.00,215.50 L118.80,215.00 L118.61,214.50 L118.43,213.99 L118.26,213.49 L118.10,212.99 L117.96,212.49 L117.83,211.98 L117.72,211.48 L117.64,210.98 L117.57,210.48 L117.52,209.97 L117.46,209.47 L117.41,208.97 L117.36,208.47 L117.32,207.96 L117.28,207.46 L117.25,206.96 L117.22,206.46 L117.21,205.95 L117.20,205.45 L117.20,204.95 L117.22,204.45 L117.24,203.94 L117.27,203.44 L117.32,202.94 L117.37,202.44 L117.42,201.93 L117.48,201.43 L117.55,200.93 L117.62,200.43 L117.69,199.92 L117.77,199.42 L117.84,198.92 L117.92,198.42 L117.99,197.91 L118.06,197.41 L118.13,196.91 L118.19,196.41 L118.26,195.90 L118.33,195.40 L118.40,194.90 L118.48,194.40 L118.55,193.90 L118.63,193.39 L118.71,192.89 L118.79,192.39 L118.87,191.89 L118.96,191.38 L119.05,190.88 L119.14,190.38 L119.24,189.88 L119.33,189.37 L119.43,188.87 L119.54,188.37 L119.64,187.87 L119.75,187.36 L119.87,186.86 L120.00,186.36 L120.14,185.86 L120.28,185.35 L120.43,184.85 L120.59,184.35 L120.75,183.85 L120.91,183.34 L121.07,182.84 L121.24,182.34 L121.40,181.84 L121.56,181.33 L121.72,180.83 L121.88,180.33 L122.04,179.83 L122.20,179.32 L122.37,178.82 L122.53,178.32 L122.70,177.82 L122.87,177.31 L123.04,176.81 L123.21,176.31 L123.38,175.81 L123.55,175.30 L123.72,174.80 L123.90,174.30Z" fill="#0000ff" stroke="#0000ff" stroke-width="0.6"/>
<line x1="128.5" y1="174.3" x2="128.5" y2="215.5" stroke="#0000bb" stroke-width="0.5" opacity="0.55"/>
<rect x="127.80" y="191.7" width="1.4" height="19.00" fill="#c8d8ff"/>
<rect x="127.70" y="197.70" width="1.6" height="1.6" fill="#ffffff"/>
<path d="M161.10,164.50 L161.32,165.00 L161.54,165.51 L161.76,166.01 L161.97,166.51 L162.18,167.02 L162.38,167.52 L162.59,168.02 L162.79,168.53 L162.98,169.03 L163.17,169.53 L163.36,170.04 L163.54,170.54 L163.72,171.04 L163.90,171.55 L164.08,172.05 L164.26,172.56 L164.43,173.06 L164.61,173.56 L164.78,174.07 L164.94,174.57 L165.10,175.07 L165.26,175.58 L165.41,176.08 L165.55,176.58 L165.69,177.09 L165.82,177.59 L165.95,178.09 L166.07,178.60 L166.20,179.10 L166.33,179.60 L166.46,180.11 L166.59,180.61 L166.72,181.11 L166.84,181.62 L166.97,182.12 L167.10,182.62 L167.22,183.13 L167.34,183.63 L167.45,184.13 L167.56,184.64 L167.66,185.14 L167.76,185.64 L167.85,186.15 L167.93,186.65 L168.01,187.16 L168.07,187.66 L168.13,188.16 L168.18,188.67 L168.21,189.17 L168.24,189.67 L168.25,190.18 L168.25,190.68 L168.22,191.18 L168.18,191.69 L168.11,192.19 L168.03,192.69 L167.92,193.20 L167.81,193.70 L167.68,194.20 L167.54,194.71 L167.38,195.21 L167.22,195.71 L167.06,196.22 L166.88,196.72 L166.71,197.22 L166.53,197.73 L166.35,198.23 L166.17,198.73 L166.00,199.24 L165.83,199.74 L165.66,200.24 L165.50,200.75 L165.36,201.25 L165.21,201.76 L165.05,202.26 L164.90,202.76 L164.74,203.27 L164.57,203.77 L164.41,204.27 L164.24,204.78 L164.08,205.28 L163.91,205.78 L163.75,206.29 L163.58,206.79 L163.42,207.29 L163.26,207.80 L163.10,208.30 L162.95,208.80 L162.80,209.31 L162.65,209.81 L162.51,210.31 L162.37,210.82 L162.22,211.32 L162.07,211.82 L161.92,212.33 L161.77,212.83 L161.62,213.33 L161.48,213.84 L161.35,214.34 L161.23,214.84 L161.11,215.35 L161.00,215.85 L160.91,216.36 L160.83,216.86 L160.77,217.36 L160.70,217.87 L160.64,218.37 L160.58,218.87 L160.53,219.38 L160.48,219.88 L160.43,220.38 L160.39,220.89 L160.36,221.39 L160.33,221.89 L160.31,222.40 L160.30,222.90 L153.70,222.90 L153.69,222.40 L153.67,221.89 L153.64,221.39 L153.61,220.89 L153.57,220.38 L153.52,219.88 L153.47,219.38 L153.42,218.87 L153.36,218.37 L153.30,217.87 L153.23,217.36 L153.17,216.86 L153.09,216.36 L153.00,215.85 L152.89,215.35 L152.77,214.84 L152.65,214.34 L152.52,213.84 L152.38,213.33 L152.23,212.83 L152.08,212.33 L151.93,211.82 L151.78,211.32 L151.63,210.82 L151.49,210.31 L151.35,209.81 L151.20,209.31 L151.05,208.80 L150.90,208.30 L150.74,207.80 L150.58,207.29 L150.42,206.79 L150.25,206.29 L150.09,205.78 L149.92,205.28 L149.76,204.78 L149.59,204.27 L149.43,203.77 L149.26,203.27 L149.10,202.76 L148.95,202.26 L148.79,201.76 L148.64,201.25 L148.50,200.75 L148.34,200.24 L148.17,199.74 L148.00,199.24 L147.83,198.73 L147.65,198.23 L147.47,197.73 L147.29,197.22 L147.12,196.72 L146.94,196.22 L146.78,195.71 L146.62,195.21 L146.46,194.71 L146.32,194.20 L146.19,193.70 L146.08,193.20 L145.97,192.69 L145.89,192.19 L145.82,191.69 L145.78,191.18 L145.75,190.68 L145.75,190.18 L145.76,189.67 L145.79,189.17 L145.82,188.67 L145.87,188.16 L145.93,187.66 L145.99,187.16 L146.07,186.65 L146.15,186.15 L146.24,185.64 L146.34,185.14 L146.44,184.64 L146.55,184.13 L146.66,183.63 L146.78,183.13 L146.90,182.62 L147.03,182.12 L147.16,181.62 L147.28,181.11 L147.41,180.61 L147.54,180.11 L147.67,179.60 L147.80,179.10 L147.93,178.60 L148.05,178.09 L148.18,177.59 L148.31,177.09 L148.45,176.58 L148.59,176.08 L148.74,175.58 L148.90,175.07 L149.06,174.57 L149.22,174.07 L149.39,173.56 L149.57,173.06 L149.74,172.56 L149.92,172.05 L150.10,171.55 L150.28,171.04 L150.46,170.54 L150.64,170.04 L150.83,169.53 L151.02,169.03 L151.21,168.53 L151.41,168.02 L151.62,167.52 L151.82,167.02 L152.03,166.51 L152.24,166.01 L152.46,165.51 L152.68,165.00 L152.90,164.50Z" fill="#ee82ee" stroke="#ee82ee" stroke-width="0.6"/>
<line x1="157.0" y1="164.5" x2="157.0" y2="222.9" stroke="#d070d0" stroke-width="0.5" opacity="0.55"/>
<rect x="156.45" y="184.5" width="1.1" height="12.00" fill="#f0a0f0"/>
<rect x="156.20" y="189.90" width="1.6" height="1.6" fill="#ffffff"/>
<path d="M190.35,189.40 L190.61,189.90 L190.87,190.41 L191.13,190.91 L191.38,191.42 L191.62,191.92 L191.87,192.43 L192.10,192.93 L192.33,193.44 L192.56,193.94 L192.78,194.45 L192.99,194.95 L193.20,195.46 L193.41,195.96 L193.61,196.47 L193.81,196.97 L194.01,197.48 L194.21,197.98 L194.41,198.49 L194.61,198.99 L194.80,199.50 L194.98,200.00 L195.15,200.51 L195.31,201.01 L195.46,201.52 L195.59,202.02 L195.71,202.53 L195.81,203.03 L195.89,203.54 L195.98,204.04 L196.07,204.55 L196.15,205.05 L196.23,205.56 L196.30,206.06 L196.37,206.57 L196.43,207.07 L196.48,207.58 L196.53,208.08 L196.56,208.59 L196.59,209.09 L196.60,209.60 L196.59,210.10 L196.55,210.60 L196.46,211.11 L196.35,211.61 L196.21,212.12 L196.04,212.62 L195.85,213.13 L195.65,213.63 L195.44,214.14 L195.22,214.64 L195.00,215.15 L194.78,215.65 L194.57,216.16 L194.38,216.66 L194.17,217.17 L193.95,217.67 L193.71,218.18 L193.46,218.68 L193.20,219.19 L192.94,219.69 L192.68,220.20 L192.42,220.70 L192.17,221.21 L191.93,221.71 L191.71,222.22 L191.51,222.72 L191.32,223.23 L191.16,223.73 L191.00,224.24 L190.84,224.74 L190.68,225.25 L190.54,225.75 L190.39,226.26 L190.25,226.76 L190.12,227.27 L189.99,227.77 L189.87,228.28 L189.76,228.78 L189.66,229.29 L189.56,229.79 L189.48,230.30 L189.40,230.80 L181.80,230.80 L181.72,230.30 L181.64,229.79 L181.54,229.29 L181.44,228.78 L181.33,228.28 L181.21,227.77 L181.08,227.27 L180.95,226.76 L180.81,226.26 L180.66,225.75 L180.52,225.25 L180.36,224.74 L180.20,224.24 L180.04,223.73 L179.88,223.23 L179.69,222.72 L179.49,222.22 L179.27,221.71 L179.03,221.21 L178.78,220.70 L178.52,220.20 L178.26,219.69 L178.00,219.19 L177.74,218.68 L177.49,218.18 L177.25,217.67 L177.03,217.17 L176.82,216.66 L176.63,216.16 L176.42,215.65 L176.20,215.15 L175.98,214.64 L175.76,214.14 L175.55,213.63 L175.35,213.13 L175.16,212.62 L174.99,212.12 L174.85,211.61 L174.74,211.11 L174.65,210.60 L174.61,210.10 L174.60,209.60 L174.61,209.09 L174.64,208.59 L174.67,208.08 L174.72,207.58 L174.77,207.07 L174.83,206.57 L174.90,206.06 L174.97,205.56 L175.05,205.05 L175.13,204.55 L175.22,204.04 L175.31,203.54 L175.39,203.03 L175.49,202.53 L175.61,202.02 L175.74,201.52 L175.89,201.01 L176.05,200.51 L176.22,200.00 L176.40,199.50 L176.59,198.99 L176.79,198.49 L176.99,197.98 L177.19,197.48 L177.39,196.97 L177.59,196.47 L177.79,195.96 L178.00,195.46 L178.21,194.95 L178.42,194.45 L178.64,193.94 L178.87,193.44 L179.10,192.93 L179.33,192.43 L179.58,191.92 L179.82,191.42 L180.07,190.91 L180.33,190.41 L180.59,189.90 L180.85,189.40Z" fill="#ff6347" stroke="#ff6347" stroke-width="0.6"/>
<line x1="185.6" y1="189.4" x2="185.6" y2="230.8" stroke="#e05038" stroke-width="0.5" opacity="0.55"/>
<rect x="184.95" y="204.4" width="1.3" height="11.50" fill="#a8dce8"/>
<rect x="184.80" y="208.30" width="1.6" height="1.6" fill="#ffffff"/>
<path d="M219.80,173.90 L219.99,174.40 L220.18,174.90 L220.36,175.41 L220.54,175.91 L220.72,176.41 L220.90,176.91 L221.07,177.41 L221.24,177.91 L221.41,178.42 L221.57,178.92 L221.72,179.42 L221.88,179.92 L222.02,180.42 L222.16,180.92 L222.30,181.43 L222.44,181.93 L222.58,182.43 L222.72,182.93 L222.85,183.43 L222.99,183.93 L223.12,184.44 L223.25,184.94 L223.37,185.44 L223.50,185.94 L223.62,186.44 L223.74,186.95 L223.85,187.45 L223.96,187.95 L224.07,188.45 L224.17,188.95 L224.27,189.45 L224.36,189.96 L224.45,190.46 L224.53,190.96 L224.61,191.46 L224.68,191.96 L224.76,192.46 L224.84,192.97 L224.92,193.47 L224.99,193.97 L225.07,194.47 L225.14,194.97 L225.21,195.47 L225.28,195.98 L225.34,196.48 L225.40,196.98 L225.45,197.48 L225.49,197.98 L225.53,198.49 L225.56,198.99 L225.58,199.49 L225.60,199.99 L225.60,200.49 L225.59,200.99 L225.56,201.50 L225.52,202.00 L225.46,202.50 L225.40,203.00 L225.32,203.50 L225.22,204.00 L225.12,204.51 L225.02,205.01 L224.90,205.51 L224.78,206.01 L224.65,206.51 L224.52,207.01 L224.38,207.52 L224.24,208.02 L224.10,208.52 L223.96,209.02 L223.82,209.52 L223.68,210.03 L223.55,210.53 L223.42,211.03 L223.29,211.53 L223.14,212.03 L222.99,212.53 L222.83,213.04 L222.66,213.54 L222.49,214.04 L222.31,214.54 L222.12,215.04 L221.94,215.54 L221.75,216.05 L221.56,216.55 L221.37,217.05 L221.18,217.55 L221.00,218.05 L220.82,218.55 L220.64,219.06 L220.47,219.56 L220.30,220.06 L220.15,220.56 L220.00,221.06 L219.86,221.57 L219.73,222.07 L219.61,222.57 L219.48,223.07 L219.36,223.57 L219.24,224.07 L219.13,224.58 L219.01,225.08 L218.90,225.58 L218.79,226.08 L218.69,226.58 L218.58,227.08 L218.48,227.59 L218.39,228.09 L218.29,228.59 L218.20,229.09 L218.11,229.59 L218.03,230.09 L217.95,230.60 L217.87,231.10 L217.80,231.60 L210.60,231.60 L210.53,231.10 L210.45,230.60 L210.37,230.09 L210.29,229.59 L210.20,229.09 L210.11,228.59 L210.01,228.09 L209.92,227.59 L209.82,227.08 L209.71,226.58 L209.61,226.08 L209.50,225.58 L209.39,225.08 L209.27,224.58 L209.16,224.07 L209.04,223.57 L208.92,223.07 L208.79,222.57 L208.67,222.07 L208.54,221.57 L208.40,221.06 L208.25,220.56 L208.10,220.06 L207.93,219.56 L207.76,219.06 L207.58,218.55 L207.40,218.05 L207.22,217.55 L207.03,217.05 L206.84,216.55 L206.65,216.05 L206.46,215.54 L206.28,215.04 L206.09,214.54 L205.91,214.04 L205.74,213.54 L205.57,213.04 L205.41,212.53 L205.26,212.03 L205.11,211.53 L204.98,211.03 L204.85,210.53 L204.72,210.03 L204.58,209.52 L204.44,209.02 L204.30,208.52 L204.16,208.02 L204.02,207.52 L203.88,207.01 L203.75,206.51 L203.62,206.01 L203.50,205.51 L203.38,205.01 L203.28,204.51 L203.18,204.00 L203.08,203.50 L203.00,203.00 L202.94,202.50 L202.88,202.00 L202.84,201.50 L202.81,200.99 L202.80,200.49 L202.80,199.99 L202.82,199.49 L202.84,198.99 L202.87,198.49 L202.91,197.98 L202.95,197.48 L203.00,196.98 L203.06,196.48 L203.12,195.98 L203.19,195.47 L203.26,194.97 L203.33,194.47 L203.41,193.97 L203.48,193.47 L203.56,192.97 L203.64,192.46 L203.72,191.96 L203.79,191.46 L203.87,190.96 L203.95,190.46 L204.04,189.96 L204.13,189.45 L204.23,188.95 L204.33,188.45 L204.44,187.95 L204.55,187.45 L204.66,186.95 L204.78,186.44 L204.90,185.94 L205.03,185.44 L205.15,184.94 L205.28,184.44 L205.41,183.93 L205.55,183.43 L205.68,182.93 L205.82,182.43 L205.96,181.93 L206.10,181.43 L206.24,180.92 L206.38,180.42 L206.52,179.92 L206.68,179.42 L206.83,178.92 L206.99,178.42 L207.16,177.91 L207.33,177.41 L207.50,176.91 L207.68,176.41 L207.86,175.91 L208.04,175.41 L208.22,174.90 L208.41,174.40 L208.60,173.90Z" fill="#ffb6c1" stroke="#dc909c" stroke-width="0.6"/>
<line x1="214.2" y1="173.9" x2="214.2" y2="231.6" stroke="#c87888" stroke-width="0.5" opacity="0.55"/>
<rect x="213.40" y="198.6" width="1.6" height="11.00" fill="#8b0000"/>
<text x="77.3" y="257.8" font-family="'Liberation Serif', 'Times New Roman', serif" font-weight="bold" font-size="11.6" textLength="87.6" lengthAdjust="spacingAndGlyphs" fill="#000" stroke="#000" stroke-width="0.2">Individual models</text>
<rect x="20.3" y="258.8" width="216.1" height="101.19999999999999" fill="none" stroke="#a0a0a0" stroke-width="0.9"/>
<line x1="18.7" y1="262.30" x2="20.3" y2="262.30" stroke="#909090" stroke-width="0.6"/>
<text transform="translate(17.1,266.40000000000003) rotate(-90)" font-family="'Liberation Serif', 'Times New Roman', serif" font-weight="bold" font-size="5.6" textLength="7.0" lengthAdjust="spacingAndGlyphs" fill="#111" stroke="#111" stroke-width="0.25">1.0</text>
<line x1="18.7" y1="285.77" x2="20.3" y2="285.77" stroke="#909090" stroke-width="0.6"/>
<text transform="translate(17.1,289.875) rotate(-90)" font-family="'Liberation Serif', 'Times New Roman', serif" font-weight="bold" font-size="5.6" textLength="7.0" lengthAdjust="spacingAndGlyphs" fill="#111" stroke="#111" stroke-width="0.25">0.9</text>
<line x1="18.7" y1="309.25" x2="20.3" y2="309.25" stroke="#909090" stroke-width="0.6"/>
<text transform="translate(17.1,313.35) rotate(-90)" font-family="'Liberation Serif', 'Times New Roman', serif" font-weight="bold" font-size="5.6" textLength="7.0" lengthAdjust="spacingAndGlyphs" fill="#111" stroke="#111" stroke-width="0.25">0.8</text>
<line x1="18.7" y1="332.73" x2="20.3" y2="332.73" stroke="#909090" stroke-width="0.6"/>
<text transform="translate(17.1,336.82500000000005) rotate(-90)" font-family="'Liberation Serif', 'Times New Roman', serif" font-weight="bold" font-size="5.6" textLength="7.0" lengthAdjust="spacingAndGlyphs" fill="#111" stroke="#111" stroke-width="0.25">0.7</text>
<line x1="18.7" y1="356.20" x2="20.3" y2="356.20" stroke="#909090" stroke-width="0.6"/>
<text transform="translate(17.1,360.3) rotate(-90)" font-family="'Liberation Serif', 'Times New Roman', serif" font-weight="bold" font-size="5.6" textLength="7.0" lengthAdjust="spacingAndGlyphs" fill="#111" stroke="#111" stroke-width="0.25">0.6</text>
<text transform="translate(10.4,331.4) rotate(-90)" font-family="'Liberation Serif', 'Times New Roman', serif" font-weight="bold" font-size="8.6" textLength="41.4" lengthAdjust="spacingAndGlyphs" fill="#000" stroke="#000" stroke-width="0.3">Metric AUC</text>
<text x="24.9" y="356.0" font-family="'Liberation Serif', 'Times New Roman', serif" font-weight="bold" font-size="10.0" fill="#000" stroke="#000" stroke-width="0.2">C</text>
<line x1="42.6" y1="360.0" x2="42.6" y2="361.6" stroke="#909090" stroke-width="0.6"/>
<text x="35.8" y="366.5" font-family="'Liberation Serif', 'Times New Roman', serif" font-weight="bold" font-size="5.4" textLength="13.6" lengthAdjust="spacingAndGlyphs" fill="#000" stroke="#000" stroke-width="0.3">GLM</text>
<line x1="71.2" y1="360.0" x2="71.2" y2="361.6" stroke="#909090" stroke-width="0.6"/>
<text x="65.6" y="366.5" font-family="'Liberation Serif', 'Times New Roman', serif" font-weight="bold" font-size="5.4" textLength="13.9" lengthAdjust="spacingAndGlyphs" fill="#000" stroke="#000" stroke-width="0.3">GAM</text>
<line x1="99.8" y1="360.0" x2="99.8" y2="361.6" stroke="#909090" stroke-width="0.6"/>
<text x="94.0" y="366.5" font-family="'Liberation Serif', 'Times New Roman', serif" font-weight="bold" font-size="5.4" textLength="13.8" lengthAdjust="spacingAndGlyphs" fill="#000" stroke="#000" stroke-width="0.3">GBM</text>
<line x1="128.5" y1="360.0" x2="128.5" y2="361.6" stroke="#909090" stroke-width="0.6"/>
<text x="122.3" y="366.5" font-family="'Liberation Serif', 'Times New Roman', serif" font-weight="bold" font-size="5.4" textLength="11.3" lengthAdjust="spacingAndGlyphs" fill="#000" stroke="#000" stroke-width="0.3">FDA</text>
<line x1="157.0" y1="360.0" x2="157.0" y2="361.6" stroke="#909090" stroke-width="0.6"/>
<text x="151.4" y="366.5" font-family="'Liberation Serif', 'Times New Roman', serif" font-weight="bold" font-size="5.4" textLength="7.1" lengthAdjust="spacingAndGlyphs" fill="#000" stroke="#000" stroke-width="0.3">RF</text>
<line x1="185.6" y1="360.0" x2="185.6" y2="361.6" stroke="#909090" stroke-width="0.6"/>
<text x="178.6" y="366.5" font-family="'Liberation Serif', 'Times New Roman', serif" font-weight="bold" font-size="5.4" textLength="12.3" lengthAdjust="spacingAndGlyphs" fill="#000" stroke="#000" stroke-width="0.3">ANN</text>
<line x1="214.2" y1="360.0" x2="214.2" y2="361.6" stroke="#909090" stroke-width="0.6"/>
<text x="205.7" y="366.5" font-family="'Liberation Serif', 'Times New Roman', serif" font-weight="bold" font-size="5.4" textLength="19.4" lengthAdjust="spacingAndGlyphs" fill="#000" stroke="#000" stroke-width="0.3">MaxEnt</text>
<path d="M54.20,265.20 L54.08,265.72 L53.78,266.24 L53.36,266.75 L52.63,267.27 L51.78,267.79 L50.75,268.31 L49.61,268.83 L48.55,269.35 L47.71,269.86 L47.03,270.38 L46.40,270.90 L45.89,271.42 L45.53,271.94 L45.31,272.45 L45.13,272.97 L44.99,273.49 L44.90,274.01 L44.82,274.53 L44.76,275.05 L44.70,275.56 L44.66,276.08 L44.65,276.60 L40.55,276.60 L40.54,276.08 L40.50,275.56 L40.44,275.05 L40.38,274.53 L40.30,274.01 L40.21,273.49 L40.07,272.97 L39.89,272.45 L39.67,271.94 L39.31,271.42 L38.80,270.90 L38.17,270.38 L37.49,269.86 L36.65,269.35 L35.59,268.83 L34.45,268.31 L33.42,267.79 L32.57,267.27 L31.84,266.75 L31.42,266.24 L31.12,265.72 L31.00,265.20Z" fill="#ff0000" stroke="#ff0000" stroke-width="0.6"/>
<line x1="42.6" y1="265.2" x2="42.6" y2="276.6" stroke="#cc0000" stroke-width="0.5" opacity="0.55"/>
<rect x="42.00" y="265.4" width="1.2" height="2.40" fill="#ffe0e0"/>
<rect x="41.80" y="265.70" width="1.6" height="1.6" fill="#ffffff"/>
<path d="M82.80,265.20 L82.59,265.71 L82.24,266.22 L81.77,266.73 L81.07,267.23 L80.21,267.74 L79.31,268.25 L78.26,268.76 L77.08,269.27 L75.97,269.78 L75.13,270.29 L74.60,270.80 L74.14,271.30 L73.77,271.81 L73.54,272.32 L73.44,272.83 L73.36,273.34 L73.30,273.85 L73.24,274.36 L73.19,274.87 L73.15,275.37 L73.12,275.88 L73.11,276.39 L73.10,276.90 L69.30,276.90 L69.29,276.39 L69.28,275.88 L69.25,275.37 L69.21,274.87 L69.16,274.36 L69.10,273.85 L69.04,273.34 L68.96,272.83 L68.86,272.32 L68.63,271.81 L68.26,271.30 L67.80,270.80 L67.27,270.29 L66.43,269.78 L65.32,269.27 L64.14,268.76 L63.09,268.25 L62.19,267.74 L61.33,267.23 L60.63,266.73 L60.16,266.22 L59.81,265.71 L59.60,265.20Z" fill="#ffa500" stroke="#ffa500" stroke-width="0.6"/>
<line x1="71.2" y1="265.2" x2="71.2" y2="276.9" stroke="#d88000" stroke-width="0.5" opacity="0.55"/>
<rect x="70.60" y="265.5" width="1.2" height="2.30" fill="#fff0d8"/>
<rect x="70.40" y="265.70" width="1.6" height="1.6" fill="#ffffff"/>
<path d="M111.50,264.70 L111.11,265.22 L110.60,265.73 L109.98,266.25 L109.16,266.77 L108.25,267.29 L107.33,267.80 L106.27,268.32 L105.17,268.84 L104.20,269.36 L103.52,269.87 L103.00,270.39 L102.52,270.91 L102.12,271.43 L101.83,271.94 L101.70,272.46 L101.68,272.98 L101.66,273.50 L101.64,274.01 L101.62,274.53 L101.61,275.05 L101.61,275.57 L101.60,276.08 L101.60,276.60 L98.00,276.60 L98.00,276.08 L97.99,275.57 L97.99,275.05 L97.98,274.53 L97.96,274.01 L97.94,273.50 L97.92,272.98 L97.90,272.46 L97.77,271.94 L97.48,271.43 L97.08,270.91 L96.60,270.39 L96.08,269.87 L95.40,269.36 L94.43,268.84 L93.33,268.32 L92.27,267.80 L91.35,267.29 L90.44,266.77 L89.62,266.25 L89.00,265.73 L88.49,265.22 L88.10,264.70Z" fill="#00ff00" stroke="#00ff00" stroke-width="0.6"/>
<line x1="99.8" y1="264.7" x2="99.8" y2="276.6" stroke="#00cc00" stroke-width="0.5" opacity="0.55"/>
<rect x="99.30" y="264.9" width="1.0" height="2.20" fill="#d8ffd8"/>
<path d="M139.95,265.00 L139.86,265.50 L139.74,266.00 L139.60,266.51 L139.42,267.01 L139.21,267.51 L138.95,268.01 L138.62,268.52 L138.21,269.02 L137.74,269.52 L137.28,270.02 L136.82,270.52 L136.33,271.03 L135.84,271.53 L135.36,272.03 L134.89,272.53 L134.41,273.04 L133.94,273.54 L133.50,274.04 L133.12,274.54 L132.77,275.04 L132.45,275.55 L132.14,276.05 L131.86,276.55 L131.57,277.05 L131.31,277.56 L131.09,278.06 L130.91,278.56 L130.75,279.06 L130.61,279.56 L130.52,280.07 L130.49,280.57 L130.48,281.07 L130.46,281.57 L130.45,282.08 L130.44,282.58 L130.43,283.08 L130.43,283.58 L130.42,284.08 L130.41,284.59 L130.41,285.09 L130.41,285.59 L130.40,286.09 L130.40,286.60 L130.40,287.10 L130.40,287.60 L126.60,287.60 L126.60,287.10 L126.60,286.60 L126.60,286.09 L126.59,285.59 L126.59,285.09 L126.59,284.59 L126.58,284.08 L126.57,283.58 L126.57,283.08 L126.56,282.58 L126.55,282.08 L126.54,281.57 L126.52,281.07 L126.51,280.57 L126.48,280.07 L126.39,279.56 L126.25,279.06 L126.09,278.56 L125.91,278.06 L125.69,277.56 L125.43,277.05 L125.14,276.55 L124.86,276.05 L124.55,275.55 L124.23,275.04 L123.88,274.54 L123.50,274.04 L123.06,273.54 L122.59,273.04 L122.11,272.53 L121.64,272.03 L121.16,271.53 L120.67,271.03 L120.18,270.52 L119.72,270.02 L119.26,269.52 L118.79,269.02 L118.38,268.52 L118.05,268.01 L117.79,267.51 L117.58,267.01 L117.40,266.51 L117.26,266.00 L117.14,265.50 L117.05,265.00Z" fill="#0000ff" stroke="#0000ff" stroke-width="0.6"/>
<line x1="128.5" y1="265.0" x2="128.5" y2="287.6" stroke="#0000bb" stroke-width="0.5" opacity="0.55"/>
<rect x="128.00" y="265.2" width="1.0" height="3.20" fill="#e8ecff"/>
<path d="M168.30,263.20 L168.27,263.71 L168.21,264.22 L168.12,264.72 L167.95,265.23 L167.64,265.74 L167.25,266.25 L166.82,266.76 L166.37,267.26 L165.83,267.77 L165.25,268.28 L164.65,268.79 L163.97,269.30 L163.38,269.80 L162.97,270.31 L162.60,270.82 L162.28,271.33 L162.04,271.84 L161.89,272.34 L161.80,272.85 L161.71,273.36 L161.64,273.87 L161.58,274.38 L161.54,274.88 L161.51,275.39 L161.50,275.90 L152.50,275.90 L152.49,275.39 L152.46,274.88 L152.42,274.38 L152.36,273.87 L152.29,273.36 L152.20,272.85 L152.11,272.34 L151.96,271.84 L151.72,271.33 L151.40,270.82 L151.03,270.31 L150.62,269.80 L150.03,269.30 L149.35,268.79 L148.75,268.28 L148.17,267.77 L147.63,267.26 L147.18,266.76 L146.75,266.25 L146.36,265.74 L146.05,265.23 L145.88,264.72 L145.79,264.22 L145.73,263.71 L145.70,263.20Z" fill="#ee82ee" stroke="#ee82ee" stroke-width="0.6"/>
<line x1="157.0" y1="263.2" x2="157.0" y2="275.9" stroke="#d070d0" stroke-width="0.5" opacity="0.55"/>
<rect x="156.00" y="264.6" width="2.0" height="1.40" fill="#ffffff"/>
<path d="M192.80,269.60 L193.28,270.10 L193.74,270.61 L194.17,271.11 L194.58,271.62 L194.97,272.12 L195.32,272.63 L195.69,273.13 L196.07,273.64 L196.43,274.14 L196.73,274.65 L196.94,275.15 L197.00,275.66 L196.87,276.16 L196.56,276.67 L196.13,277.17 L195.61,277.68 L195.06,278.18 L194.51,278.69 L193.90,279.19 L193.13,279.70 L192.29,280.20 L191.47,280.70 L190.74,281.21 L190.19,281.71 L189.75,282.22 L189.35,282.72 L188.98,283.23 L188.67,283.73 L188.44,284.24 L188.29,284.74 L188.19,285.25 L188.12,285.75 L188.06,286.26 L188.01,286.76 L187.99,287.27 L187.97,287.77 L187.95,288.28 L187.93,288.78 L187.92,289.29 L187.91,289.79 L187.90,290.30 L187.90,290.80 L183.30,290.80 L183.30,290.30 L183.29,289.79 L183.28,289.29 L183.27,288.78 L183.25,288.28 L183.23,287.77 L183.21,287.27 L183.19,286.76 L183.14,286.26 L183.08,285.75 L183.01,285.25 L182.91,284.74 L182.76,284.24 L182.53,283.73 L182.22,283.23 L181.85,282.72 L181.45,282.22 L181.01,281.71 L180.46,281.21 L179.73,280.70 L178.91,280.20 L178.07,279.70 L177.30,279.19 L176.69,278.69 L176.14,278.18 L175.59,277.68 L175.07,277.17 L174.64,276.67 L174.33,276.16 L174.20,275.66 L174.26,275.15 L174.47,274.65 L174.77,274.14 L175.13,273.64 L175.51,273.13 L175.88,272.63 L176.23,272.12 L176.62,271.62 L177.03,271.11 L177.46,270.61 L177.92,270.10 L178.40,269.60Z" fill="#ff6347" stroke="#ff6347" stroke-width="0.6"/>
<line x1="185.6" y1="269.6" x2="185.6" y2="290.8" stroke="#e05038" stroke-width="0.5" opacity="0.55"/>
<rect x="184.85" y="274.1" width="1.5" height="4.60" fill="#f4faff"/>
<rect x="184.80" y="275.40" width="1.6" height="1.6" fill="#ffffff"/>
<path d="M225.70,265.20 L225.49,265.71 L225.25,266.22 L224.97,266.73 L224.65,267.25 L224.29,267.76 L223.88,268.27 L223.42,268.78 L222.84,269.29 L222.07,269.80 L221.19,270.32 L220.29,270.83 L219.45,271.34 L218.76,271.85 L218.18,272.36 L217.62,272.87 L217.12,273.38 L216.76,273.90 L216.58,274.41 L216.47,274.92 L216.37,275.43 L216.29,275.94 L216.23,276.45 L216.17,276.97 L216.13,277.48 L216.11,277.99 L216.10,278.50 L212.30,278.50 L212.29,277.99 L212.27,277.48 L212.23,276.97 L212.17,276.45 L212.11,275.94 L212.03,275.43 L211.93,274.92 L211.82,274.41 L211.64,273.90 L211.28,273.38 L210.78,272.87 L210.22,272.36 L209.64,271.85 L208.95,271.34 L208.11,270.83 L207.21,270.32 L206.33,269.80 L205.56,269.29 L204.98,268.78 L204.52,268.27 L204.11,267.76 L203.75,267.25 L203.43,266.73 L203.15,266.22 L202.91,265.71 L202.70,265.20Z" fill="#ffb6c1" stroke="#dc909c" stroke-width="0.6"/>
<line x1="214.2" y1="265.2" x2="214.2" y2="278.5" stroke="#c87888" stroke-width="0.5" opacity="0.55"/>
<rect x="213.50" y="265.8" width="1.4" height="1.50" fill="#8b0000"/>
<rect x="213.6" y="267.9" width="1.0" height="3.8" fill="#d87888" opacity="0.8"/>
<rect x="213.7" y="195.8" width="1.6" height="1.6" fill="#8b0000"/>
<line x1="258.1" y1="17.3" x2="545.6" y2="17.3" stroke="#000" stroke-width="1.3"/>
<line x1="545.6" y1="17.2" x2="545.6" y2="347.3" stroke="#333" stroke-width="1.1"/>
<line x1="258.1" y1="347.3" x2="545.6" y2="347.3" stroke="#222" stroke-width="1.2"/>
<line x1="258.1" y1="17.2" x2="258.1" y2="347.3" stroke="#6a6a6a" stroke-width="1.1"/>
<text x="360.4" y="15.4" font-family="'Liberation Serif', 'Times New Roman', serif" font-weight="bold" font-size="18.2" textLength="123.7" lengthAdjust="spacingAndGlyphs" fill="#000" stroke="#000" stroke-width="0.2">Metrics of eSDM</text>
<text transform="translate(246.3,224.0) rotate(-90)" font-family="'Liberation Serif', 'Times New Roman', serif" font-weight="bold" font-size="14.3" textLength="83.8" lengthAdjust="spacingAndGlyphs" fill="#000">Metrics value</text>
<line x1="255.4" y1="21.40" x2="258.1" y2="21.40" stroke="#707070" stroke-width="0.6"/>
<text transform="translate(252.9,32.4) rotate(-90)" font-family="'Liberation Serif', 'Times New Roman', serif" font-weight="bold" font-size="6.5" textLength="18.9" lengthAdjust="spacingAndGlyphs" fill="#000" stroke="#000" stroke-width="0.3">1.00</text>
<line x1="255.4" y1="88.13" x2="258.1" y2="88.13" stroke="#707070" stroke-width="0.6"/>
<text transform="translate(252.9,101.95) rotate(-90)" font-family="'Liberation Serif', 'Times New Roman', serif" font-weight="bold" font-size="6.5" textLength="19.9" lengthAdjust="spacingAndGlyphs" fill="#000" stroke="#000" stroke-width="0.3">0.95</text>
<line x1="255.4" y1="154.85" x2="258.1" y2="154.85" stroke="#707070" stroke-width="0.6"/>
<text transform="translate(252.9,167.5) rotate(-90)" font-family="'Liberation Serif', 'Times New Roman', serif" font-weight="bold" font-size="6.5" textLength="19.6" lengthAdjust="spacingAndGlyphs" fill="#000" stroke="#000" stroke-width="0.3">0.90</text>
<line x1="255.4" y1="221.58" x2="258.1" y2="221.58" stroke="#707070" stroke-width="0.6"/>
<text transform="translate(252.9,232.95) rotate(-90)" font-family="'Liberation Serif', 'Times New Roman', serif" font-weight="bold" font-size="6.5" textLength="19.9" lengthAdjust="spacingAndGlyphs" fill="#000" stroke="#000" stroke-width="0.3">0.85</text>
<line x1="255.4" y1="288.30" x2="258.1" y2="288.30" stroke="#707070" stroke-width="0.6"/>
<text transform="translate(252.9,302.0) rotate(-90)" font-family="'Liberation Serif', 'Times New Roman', serif" font-weight="bold" font-size="6.5" textLength="20.4" lengthAdjust="spacingAndGlyphs" fill="#000" stroke="#000" stroke-width="0.3">0.80</text>
<text x="265.9" y="336.9" font-family="'Liberation Serif', 'Times New Roman', serif" font-weight="bold" font-size="15.0" textLength="9.2" lengthAdjust="spacingAndGlyphs" fill="#000" stroke="#000" stroke-width="0.2">D</text>
<line x1="284.9" y1="347.3" x2="284.9" y2="351.2" stroke="#707070" stroke-width="0.6"/>
<text x="272.6" y="364.5" font-family="'Liberation Serif', 'Times New Roman', serif" font-weight="bold" font-size="8.2" textLength="24.5" lengthAdjust="spacingAndGlyphs" fill="#000" stroke="#000" stroke-width="0.35">TSS-WM</text>
<line x1="318.4" y1="347.3" x2="318.4" y2="351.2" stroke="#707070" stroke-width="0.6"/>
<text x="302.3" y="364.5" font-family="'Liberation Serif', 'Times New Roman', serif" font-weight="bold" font-size="8.2" textLength="34.9" lengthAdjust="spacingAndGlyphs" fill="#000" stroke="#000" stroke-width="0.35">KAPPA-WM</text>
<line x1="351.8" y1="347.3" x2="351.8" y2="351.2" stroke="#707070" stroke-width="0.6"/>
<text x="340.2" y="364.5" font-family="'Liberation Serif', 'Times New Roman', serif" font-weight="bold" font-size="8.2" textLength="27.8" lengthAdjust="spacingAndGlyphs" fill="#000" stroke="#000" stroke-width="0.35">AUC-WM</text>
<line x1="385.1" y1="347.3" x2="385.1" y2="351.2" stroke="#707070" stroke-width="0.6"/>
<text x="372.5" y="364.5" font-family="'Liberation Serif', 'Times New Roman', serif" font-weight="bold" font-size="8.2" textLength="30.0" lengthAdjust="spacingAndGlyphs" fill="#000" stroke="#000" stroke-width="0.35">Boyce-WM</text>
<line x1="418.4" y1="347.3" x2="418.4" y2="351.2" stroke="#707070" stroke-width="0.6"/>
<text x="407.9" y="364.5" font-family="'Liberation Serif', 'Times New Roman', serif" font-weight="bold" font-size="8.2" textLength="21.4" lengthAdjust="spacingAndGlyphs" fill="#000" stroke="#000" stroke-width="0.35">TSS-CA</text>
<line x1="451.6" y1="347.3" x2="451.6" y2="351.2" stroke="#707070" stroke-width="0.6"/>
<text x="437.5" y="364.5" font-family="'Liberation Serif', 'Times New Roman', serif" font-weight="bold" font-size="8.2" textLength="31.4" lengthAdjust="spacingAndGlyphs" fill="#000" stroke="#000" stroke-width="0.35">KAPPA-CA</text>
<line x1="484.8" y1="347.3" x2="484.8" y2="351.2" stroke="#707070" stroke-width="0.6"/>
<text x="475.2" y="364.5" font-family="'Liberation Serif', 'Times New Roman', serif" font-weight="bold" font-size="8.2" textLength="24.1" lengthAdjust="spacingAndGlyphs" fill="#000" stroke="#000" stroke-width="0.35">AUC-CA</text>
<line x1="518.2" y1="347.3" x2="518.2" y2="351.2" stroke="#707070" stroke-width="0.6"/>
<text x="507.5" y="364.5" font-family="'Liberation Serif', 'Times New Roman', serif" font-weight="bold" font-size="8.2" textLength="26.6" lengthAdjust="spacingAndGlyphs" fill="#000" stroke="#000" stroke-width="0.35">Boyce-CA</text>
<path d="M271.90000000000003,92.3 L298.8,92.3 L295.90000000000003,97.19999999999999 L298.8,102.1 L271.90000000000003,102.1 L274.8,97.19999999999999 Z" fill="#ff0000"/>
<rect x="284.4" y="91.7" width="1.4" height="11.0" fill="#c8c0dc"/>
<path d="M285.1,95.8 L286.0,97.5 L285.1,99.2 L284.2,97.5 Z" fill="#ffffff"/>
<path d="M305.3,320.6 L331.7,320.6 L328.45,328.1 L331.7,335.6 L305.3,335.6 L308.55,328.1 Z" fill="#ffa500"/>
<rect x="318.0" y="320.4" width="1.1" height="15.4" fill="#fff0d8"/>
<path d="M318.5,326.5 L319.4,328.2 L318.5,330 L317.6,328.2 Z" fill="#ffffff"/>
<rect x="338.7" y="29.7" width="26.3" height="2.0" fill="#00c000"/>
<rect x="338.7" y="29.7" width="3.6" height="2.0" fill="#2a5a2a"/>
<rect x="361.4" y="29.7" width="3.6" height="2.0" fill="#2a5a2a"/>
<rect x="351.0" y="29.3" width="1.9" height="2.8" fill="#ffffff"/>
<rect x="371.5" y="42.3" width="27.0" height="1.1" fill="#905050"/>
<rect x="374.3" y="40.1" width="21.4" height="3.2" fill="#0000e0" stroke="#803030" stroke-width="0.4"/>
<rect x="384.2" y="39.8" width="1.7" height="3.8" fill="#ffffff"/>
<rect x="405.1" y="96.3" width="26.8" height="1.9" fill="#c01828"/>
<rect x="405.1" y="96.3" width="4" height="1.9" fill="#5060c0"/>
<rect x="427.9" y="96.3" width="4" height="1.9" fill="#5060c0"/>
<rect x="417.4" y="95.9" width="1.7" height="2.7" fill="#ffffff"/>
<path d="M438.20000000000005,308.2 L465.0,308.2 L462.2,311.25 L465.0,314.3 L438.20000000000005,314.3 L441.00000000000006,311.25 Z" fill="#ffa500" stroke="#b070a0" stroke-width="0.45"/>
<rect x="450.6" y="307.8" width="1.8" height="7.0" fill="#ffffff"/>
<rect x="472.0" y="29.7" width="26.3" height="1.8" fill="#22dd22"/>
<rect x="472.0" y="29.7" width="2.5" height="1.8" fill="#90c090"/>
<rect x="495.8" y="29.7" width="2.5" height="1.8" fill="#90c090"/>
<rect x="483.8" y="29.2" width="2.0" height="2.8" fill="#ffffff"/>
<rect x="505.2" y="42.3" width="26.6" height="1.1" fill="#7070a0"/>
<rect x="507.6" y="40.1" width="21.4" height="3.0" fill="#0000e0" stroke="#303080" stroke-width="0.4"/>
<rect x="517.3" y="39.8" width="1.7" height="3.6" fill="#ffffff"/>
</svg></body></html>
